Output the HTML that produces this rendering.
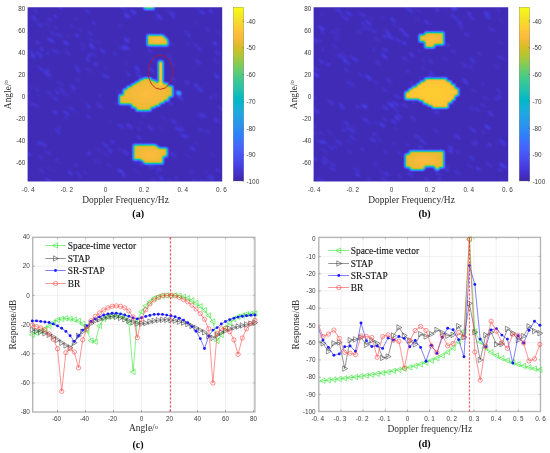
<!DOCTYPE html>
<html><head><meta charset="utf-8"><title>Figure</title>
<style>html,body{margin:0;padding:0;background:#fff}svg{display:block}.tk{font-family:"Liberation Sans",sans-serif;font-size:6.4px;fill:#3a3a3a}.lb{font-family:"Liberation Serif",serif;font-size:9.45px;fill:#2a2a2a}.lg{font-family:"Liberation Serif",serif;font-size:9.45px;fill:#111;stroke:#111;stroke-width:0.12px}.cp{font-family:"Liberation Serif",serif;font-size:10px;font-weight:bold;fill:#000}</style></head><body>
<svg width="550" height="453" viewBox="0 0 550 453">
<rect width="550" height="453" fill="#fff"/>
<defs>
<filter id="par" color-interpolation-filters="sRGB" filterUnits="userSpaceOnUse" x="0" y="0" width="550" height="230"><feGaussianBlur stdDeviation="0.85"/><feComponentTransfer><feFuncR type="table" tableValues="0.2422 0.2504 0.2578 0.2647 0.2706 0.2751 0.2783 0.2803 0.2813 0.2810 0.2795 0.2760 0.2699 0.2602 0.2440 0.2206 0.1963 0.1834 0.1786 0.1764 0.1687 0.1540 0.1460 0.1380 0.1248 0.1113 0.0952 0.0689 0.0297 0.0036 0.0067 0.0433 0.0964 0.1408 0.1717 0.1938 0.2161 0.2470 0.2906 0.3406 0.3909 0.4456 0.5044 0.5616 0.6174 0.6720 0.7242 0.7738 0.8203 0.8634 0.9035 0.9393 0.9728 0.9956 0.9970 0.9952 0.9892 0.9786 0.9676 0.9610 0.9597 0.9628 0.9691 0.9769"/><feFuncG type="table" tableValues="0.1504 0.1650 0.1818 0.1978 0.2147 0.2342 0.2559 0.2782 0.3006 0.3228 0.3447 0.3667 0.3892 0.4123 0.4358 0.4603 0.4847 0.5074 0.5289 0.5499 0.5703 0.5902 0.6091 0.6276 0.6459 0.6635 0.6798 0.6948 0.7082 0.7203 0.7312 0.7411 0.7500 0.7584 0.7670 0.7758 0.7843 0.7918 0.7973 0.8008 0.8029 0.8024 0.7993 0.7942 0.7876 0.7793 0.7698 0.7598 0.7498 0.7406 0.7330 0.7288 0.7298 0.7434 0.7659 0.7893 0.8136 0.8386 0.8639 0.8890 0.9135 0.9373 0.9606 0.9839"/><feFuncB type="table" tableValues="0.6603 0.7076 0.7511 0.7952 0.8364 0.8710 0.8991 0.9221 0.9414 0.9579 0.9717 0.9829 0.9906 0.9952 0.9988 0.9973 0.9892 0.9798 0.9682 0.9520 0.9359 0.9218 0.9079 0.8973 0.8883 0.8763 0.8598 0.8394 0.8163 0.7917 0.7660 0.7394 0.7120 0.6842 0.6554 0.6251 0.5923 0.5567 0.5188 0.4789 0.4354 0.3909 0.3480 0.3045 0.2612 0.2227 0.1910 0.1646 0.1535 0.1596 0.1774 0.2100 0.2394 0.2371 0.2199 0.2028 0.1885 0.1766 0.1643 0.1537 0.1423 0.1265 0.1064 0.0805"/></feComponentTransfer></filter>
<linearGradient id="cb" x1="0" y1="0" x2="0" y2="1"><stop offset="0.0000" stop-color="#f9fb15"/><stop offset="0.0312" stop-color="#f6ef20"/><stop offset="0.0625" stop-color="#f5e327"/><stop offset="0.0938" stop-color="#f9d62d"/><stop offset="0.1250" stop-color="#feca33"/><stop offset="0.1562" stop-color="#febe3c"/><stop offset="0.1875" stop-color="#f1ba37"/><stop offset="0.2188" stop-color="#debc2a"/><stop offset="0.2500" stop-color="#c8c129"/><stop offset="0.2812" stop-color="#afc637"/><stop offset="0.3125" stop-color="#94ca4a"/><stop offset="0.3438" stop-color="#77cc60"/><stop offset="0.3750" stop-color="#5ccc76"/><stop offset="0.4062" stop-color="#44ca8a"/><stop offset="0.4375" stop-color="#34c79c"/><stop offset="0.4688" stop-color="#28c2ab"/><stop offset="0.5000" stop-color="#12beb9"/><stop offset="0.5312" stop-color="#01b9c6"/><stop offset="0.5625" stop-color="#0cb3d3"/><stop offset="0.5938" stop-color="#1aacdd"/><stop offset="0.6250" stop-color="#21a3e3"/><stop offset="0.6562" stop-color="#269ae9"/><stop offset="0.6875" stop-color="#2c90f0"/><stop offset="0.7188" stop-color="#2e85f8"/><stop offset="0.7500" stop-color="#347afd"/><stop offset="0.7812" stop-color="#3f6efe"/><stop offset="0.8125" stop-color="#4562fc"/><stop offset="0.8438" stop-color="#4757f7"/><stop offset="0.8750" stop-color="#484cef"/><stop offset="0.9062" stop-color="#4741e5"/><stop offset="0.9375" stop-color="#4536d5"/><stop offset="0.9688" stop-color="#422ebf"/><stop offset="1.0000" stop-color="#3e26a8"/></linearGradient>
<radialGradient id="ga" cx="50%" cy="50%" r="60%"><stop offset="0" stop-color="#d7d7d7"/><stop offset="1" stop-color="#c9c9c9"/></radialGradient>
<radialGradient id="gb" cx="50%" cy="50%" r="60%"><stop offset="0" stop-color="#e3e3e3"/><stop offset="1" stop-color="#d9d9d9"/></radialGradient>
<clipPath id="ca"><rect x="27.6" y="7.3" width="194.6" height="174.3"/></clipPath>
<clipPath id="cbp"><rect x="313.6" y="7.3" width="194.6" height="174.3"/></clipPath>
<clipPath id="cc"><rect x="32.3" y="237" width="222.6" height="175"/></clipPath>
<clipPath id="cd"><rect x="318.8" y="237.4" width="221.7" height="174.1"/></clipPath>
</defs>
<g clip-path="url(#ca)"><g filter="url(#par)">
<rect x="21.6" y="1.3" width="206.6" height="186.0" fill="#050505"/>
<ellipse cx="90.6" cy="33.5" rx="3.7" ry="0.9" fill="#141414" transform="rotate(33 90.6 33.5)"/><ellipse cx="38.9" cy="95.6" rx="2.3" ry="1.1" fill="#0d0d0d" transform="rotate(27 38.9 95.6)"/><ellipse cx="110.2" cy="151.2" rx="2.5" ry="1.0" fill="#151515" transform="rotate(46 110.2 151.2)"/><ellipse cx="139.9" cy="76.3" rx="4.4" ry="0.8" fill="#191919" transform="rotate(31 139.9 76.3)"/><ellipse cx="55.7" cy="27.8" rx="2.9" ry="1.4" fill="#0e0e0e" transform="rotate(38 55.7 27.8)"/><ellipse cx="151.9" cy="72.1" rx="3.5" ry="0.8" fill="#0c0c0c" transform="rotate(30 151.9 72.1)"/><ellipse cx="160.0" cy="81.7" rx="2.9" ry="1.2" fill="#121212" transform="rotate(32 160.0 81.7)"/><ellipse cx="182.2" cy="128.9" rx="2.8" ry="1.2" fill="#141414" transform="rotate(44 182.2 128.9)"/><ellipse cx="169.6" cy="57.4" rx="4.5" ry="0.9" fill="#121212" transform="rotate(42 169.6 57.4)"/><ellipse cx="57.2" cy="92.4" rx="2.3" ry="1.3" fill="#171717" transform="rotate(38 57.2 92.4)"/><ellipse cx="198.0" cy="61.9" rx="3.8" ry="1.2" fill="#141414" transform="rotate(35 198.0 61.9)"/><ellipse cx="191.1" cy="171.7" rx="3.3" ry="1.3" fill="#0c0c0c" transform="rotate(40 191.1 171.7)"/><ellipse cx="153.5" cy="180.1" rx="4.1" ry="1.0" fill="#111111" transform="rotate(40 153.5 180.1)"/><ellipse cx="32.0" cy="87.6" rx="2.6" ry="0.9" fill="#0c0c0c" transform="rotate(42 32.0 87.6)"/><ellipse cx="52.8" cy="50.4" rx="3.1" ry="1.4" fill="#0d0d0d" transform="rotate(35 52.8 50.4)"/><ellipse cx="134.5" cy="161.0" rx="4.1" ry="1.4" fill="#101010" transform="rotate(34 134.5 161.0)"/><ellipse cx="97.4" cy="161.1" rx="4.4" ry="0.9" fill="#0e0e0e" transform="rotate(30 97.4 161.1)"/><ellipse cx="73.0" cy="91.7" rx="3.6" ry="1.0" fill="#0c0c0c" transform="rotate(34 73.0 91.7)"/><ellipse cx="99.5" cy="105.8" rx="4.4" ry="1.3" fill="#131313" transform="rotate(39 99.5 105.8)"/><ellipse cx="159.2" cy="16.7" rx="4.3" ry="1.3" fill="#191919" transform="rotate(43 159.2 16.7)"/><ellipse cx="104.0" cy="76.7" rx="2.4" ry="1.2" fill="#0c0c0c" transform="rotate(26 104.0 76.7)"/><ellipse cx="68.2" cy="35.5" rx="3.0" ry="0.8" fill="#0b0b0b" transform="rotate(28 68.2 35.5)"/><ellipse cx="47.3" cy="70.6" rx="2.3" ry="1.4" fill="#151515" transform="rotate(28 47.3 70.6)"/><ellipse cx="76.7" cy="67.7" rx="3.0" ry="0.9" fill="#181818" transform="rotate(47 76.7 67.7)"/><ellipse cx="118.3" cy="91.5" rx="2.4" ry="0.9" fill="#111111" transform="rotate(31 118.3 91.5)"/><ellipse cx="188.9" cy="35.4" rx="2.3" ry="1.5" fill="#141414" transform="rotate(28 188.9 35.4)"/><ellipse cx="133.3" cy="12.0" rx="3.4" ry="1.5" fill="#191919" transform="rotate(40 133.3 12.0)"/><ellipse cx="78.4" cy="71.1" rx="2.6" ry="1.3" fill="#141414" transform="rotate(42 78.4 71.1)"/><ellipse cx="91.8" cy="46.1" rx="4.1" ry="1.5" fill="#191919" transform="rotate(43 91.8 46.1)"/><ellipse cx="186.8" cy="136.0" rx="2.7" ry="1.2" fill="#111111" transform="rotate(26 186.8 136.0)"/><ellipse cx="33.0" cy="55.9" rx="2.8" ry="1.3" fill="#1a1a1a" transform="rotate(35 33.0 55.9)"/><ellipse cx="209.9" cy="179.2" rx="4.4" ry="1.1" fill="#0f0f0f" transform="rotate(30 209.9 179.2)"/><ellipse cx="65.9" cy="42.9" rx="3.6" ry="1.4" fill="#181818" transform="rotate(36 65.9 42.9)"/><ellipse cx="154.7" cy="146.4" rx="2.4" ry="1.3" fill="#191919" transform="rotate(42 154.7 146.4)"/><ellipse cx="173.6" cy="90.5" rx="2.6" ry="1.4" fill="#111111" transform="rotate(43 173.6 90.5)"/><ellipse cx="216.7" cy="76.2" rx="3.1" ry="1.5" fill="#171717" transform="rotate(29 216.7 76.2)"/><ellipse cx="52.3" cy="33.6" rx="4.3" ry="1.4" fill="#0e0e0e" transform="rotate(43 52.3 33.6)"/><ellipse cx="218.4" cy="121.7" rx="3.0" ry="1.2" fill="#0d0d0d" transform="rotate(25 218.4 121.7)"/><ellipse cx="216.5" cy="120.3" rx="3.4" ry="1.5" fill="#121212" transform="rotate(44 216.5 120.3)"/><ellipse cx="188.4" cy="44.0" rx="2.8" ry="1.0" fill="#0f0f0f" transform="rotate(38 188.4 44.0)"/><ellipse cx="78.1" cy="80.2" rx="2.5" ry="1.4" fill="#111111" transform="rotate(35 78.1 80.2)"/><ellipse cx="141.1" cy="164.6" rx="3.2" ry="1.4" fill="#131313" transform="rotate(37 141.1 164.6)"/><ellipse cx="129.5" cy="10.6" rx="3.2" ry="0.9" fill="#0c0c0c" transform="rotate(43 129.5 10.6)"/><ellipse cx="61.1" cy="89.7" rx="3.9" ry="1.2" fill="#101010" transform="rotate(36 61.1 89.7)"/><ellipse cx="135.7" cy="143.8" rx="2.4" ry="1.2" fill="#0f0f0f" transform="rotate(31 135.7 143.8)"/><ellipse cx="177.9" cy="95.6" rx="3.5" ry="1.3" fill="#191919" transform="rotate(35 177.9 95.6)"/><ellipse cx="146.8" cy="95.3" rx="3.4" ry="1.3" fill="#121212" transform="rotate(37 146.8 95.3)"/><ellipse cx="120.6" cy="171.1" rx="3.8" ry="1.4" fill="#1a1a1a" transform="rotate(31 120.6 171.1)"/><ellipse cx="136.5" cy="171.4" rx="4.1" ry="0.9" fill="#0d0d0d" transform="rotate(35 136.5 171.4)"/><ellipse cx="41.7" cy="49.2" rx="2.4" ry="1.3" fill="#171717" transform="rotate(45 41.7 49.2)"/><ellipse cx="57.7" cy="131.9" rx="3.7" ry="0.9" fill="#191919" transform="rotate(46 57.7 131.9)"/><ellipse cx="70.3" cy="173.0" rx="3.1" ry="1.1" fill="#1b1b1b" transform="rotate(43 70.3 173.0)"/><ellipse cx="59.0" cy="82.4" rx="3.4" ry="1.0" fill="#0e0e0e" transform="rotate(32 59.0 82.4)"/><ellipse cx="168.1" cy="10.7" rx="3.5" ry="1.1" fill="#0c0c0c" transform="rotate(32 168.1 10.7)"/><ellipse cx="149.0" cy="96.4" rx="2.3" ry="1.5" fill="#181818" transform="rotate(46 149.0 96.4)"/><ellipse cx="48.0" cy="53.5" rx="2.3" ry="1.3" fill="#101010" transform="rotate(28 48.0 53.5)"/><ellipse cx="109.8" cy="165.9" rx="4.1" ry="1.0" fill="#0e0e0e" transform="rotate(45 109.8 165.9)"/><ellipse cx="138.6" cy="129.2" rx="2.4" ry="0.8" fill="#161616" transform="rotate(34 138.6 129.2)"/><ellipse cx="41.7" cy="170.6" rx="3.7" ry="1.4" fill="#0d0d0d" transform="rotate(44 41.7 170.6)"/><ellipse cx="40.6" cy="157.4" rx="3.2" ry="1.0" fill="#141414" transform="rotate(45 40.6 157.4)"/><ellipse cx="79.7" cy="29.8" rx="3.4" ry="1.0" fill="#0d0d0d" transform="rotate(29 79.7 29.8)"/><ellipse cx="37.4" cy="42.4" rx="2.9" ry="1.0" fill="#171717" transform="rotate(31 37.4 42.4)"/><ellipse cx="124.9" cy="38.3" rx="3.0" ry="0.8" fill="#0f0f0f" transform="rotate(25 124.9 38.3)"/><ellipse cx="170.3" cy="103.2" rx="2.6" ry="1.1" fill="#1a1a1a" transform="rotate(27 170.3 103.2)"/><ellipse cx="187.0" cy="82.5" rx="3.3" ry="1.4" fill="#111111" transform="rotate(36 187.0 82.5)"/><ellipse cx="161.4" cy="178.2" rx="3.0" ry="1.4" fill="#161616" transform="rotate(39 161.4 178.2)"/><ellipse cx="106.4" cy="67.8" rx="2.3" ry="0.9" fill="#0d0d0d" transform="rotate(41 106.4 67.8)"/><ellipse cx="77.3" cy="35.7" rx="2.4" ry="1.4" fill="#191919" transform="rotate(40 77.3 35.7)"/><ellipse cx="82.5" cy="49.4" rx="2.9" ry="1.1" fill="#0e0e0e" transform="rotate(35 82.5 49.4)"/><ellipse cx="78.8" cy="174.7" rx="4.4" ry="1.2" fill="#0f0f0f" transform="rotate(46 78.8 174.7)"/><ellipse cx="87.8" cy="69.3" rx="2.2" ry="1.1" fill="#131313" transform="rotate(36 87.8 69.3)"/><ellipse cx="66.7" cy="95.1" rx="2.2" ry="1.0" fill="#0d0d0d" transform="rotate(34 66.7 95.1)"/><ellipse cx="35.7" cy="11.2" rx="2.9" ry="1.0" fill="#141414" transform="rotate(37 35.7 11.2)"/><ellipse cx="173.7" cy="121.7" rx="3.8" ry="1.4" fill="#111111" transform="rotate(32 173.7 121.7)"/><ellipse cx="219.2" cy="33.3" rx="3.9" ry="1.3" fill="#0c0c0c" transform="rotate(43 219.2 33.3)"/><ellipse cx="201.2" cy="116.5" rx="3.9" ry="1.4" fill="#0e0e0e" transform="rotate(37 201.2 116.5)"/><ellipse cx="125.8" cy="152.6" rx="4.1" ry="1.4" fill="#141414" transform="rotate(45 125.8 152.6)"/><ellipse cx="160.5" cy="127.9" rx="2.7" ry="0.8" fill="#0e0e0e" transform="rotate(33 160.5 127.9)"/><ellipse cx="48.0" cy="152.7" rx="3.5" ry="1.2" fill="#151515" transform="rotate(40 48.0 152.7)"/><ellipse cx="122.8" cy="7.9" rx="4.0" ry="1.3" fill="#131313" transform="rotate(37 122.8 7.9)"/><ellipse cx="155.9" cy="18.8" rx="3.9" ry="1.0" fill="#0d0d0d" transform="rotate(31 155.9 18.8)"/><ellipse cx="169.5" cy="43.0" rx="3.9" ry="1.5" fill="#131313" transform="rotate(33 169.5 43.0)"/><ellipse cx="120.8" cy="126.3" rx="4.0" ry="1.2" fill="#151515" transform="rotate(27 120.8 126.3)"/><ellipse cx="56.3" cy="51.5" rx="3.9" ry="1.0" fill="#141414" transform="rotate(25 56.3 51.5)"/><ellipse cx="39.4" cy="54.1" rx="3.7" ry="1.3" fill="#161616" transform="rotate(31 39.4 54.1)"/><ellipse cx="128.1" cy="88.2" rx="3.3" ry="0.9" fill="#191919" transform="rotate(29 128.1 88.2)"/><ellipse cx="217.9" cy="170.2" rx="2.2" ry="1.1" fill="#181818" transform="rotate(46 217.9 170.2)"/><ellipse cx="115.1" cy="54.0" rx="2.7" ry="1.5" fill="#0f0f0f" transform="rotate(38 115.1 54.0)"/><ellipse cx="55.2" cy="98.5" rx="4.4" ry="0.9" fill="#181818" transform="rotate(36 55.2 98.5)"/><ellipse cx="200.2" cy="129.7" rx="2.7" ry="1.4" fill="#131313" transform="rotate(26 200.2 129.7)"/><ellipse cx="28.3" cy="92.9" rx="3.2" ry="1.0" fill="#0e0e0e" transform="rotate(33 28.3 92.9)"/><ellipse cx="89.1" cy="153.5" rx="2.2" ry="1.3" fill="#181818" transform="rotate(28 89.1 153.5)"/><ellipse cx="207.9" cy="131.4" rx="4.3" ry="1.0" fill="#111111" transform="rotate(34 207.9 131.4)"/><ellipse cx="222.0" cy="109.8" rx="3.0" ry="1.1" fill="#101010" transform="rotate(26 222.0 109.8)"/><ellipse cx="47.4" cy="152.5" rx="2.9" ry="1.5" fill="#0f0f0f" transform="rotate(31 47.4 152.5)"/><ellipse cx="127.0" cy="40.3" rx="3.1" ry="1.5" fill="#191919" transform="rotate(43 127.0 40.3)"/><ellipse cx="150.4" cy="166.2" rx="4.4" ry="1.2" fill="#161616" transform="rotate(26 150.4 166.2)"/><ellipse cx="170.1" cy="85.7" rx="3.9" ry="1.3" fill="#101010" transform="rotate(26 170.1 85.7)"/><ellipse cx="208.0" cy="29.5" rx="3.3" ry="1.0" fill="#101010" transform="rotate(41 208.0 29.5)"/><ellipse cx="217.6" cy="52.6" rx="3.7" ry="1.0" fill="#141414" transform="rotate(34 217.6 52.6)"/><ellipse cx="60.2" cy="35.4" rx="2.7" ry="1.4" fill="#131313" transform="rotate(30 60.2 35.4)"/><ellipse cx="204.0" cy="180.7" rx="3.2" ry="0.9" fill="#0e0e0e" transform="rotate(27 204.0 180.7)"/><ellipse cx="94.1" cy="23.2" rx="2.7" ry="1.0" fill="#141414" transform="rotate(45 94.1 23.2)"/><ellipse cx="173.5" cy="79.1" rx="3.2" ry="1.2" fill="#111111" transform="rotate(32 173.5 79.1)"/><ellipse cx="39.7" cy="55.6" rx="4.4" ry="0.9" fill="#131313" transform="rotate(39 39.7 55.6)"/><ellipse cx="195.5" cy="44.9" rx="2.8" ry="1.0" fill="#121212" transform="rotate(35 195.5 44.9)"/><ellipse cx="213.2" cy="155.0" rx="4.2" ry="0.8" fill="#0c0c0c" transform="rotate(41 213.2 155.0)"/><ellipse cx="201.9" cy="89.6" rx="3.6" ry="0.8" fill="#111111" transform="rotate(45 201.9 89.6)"/><ellipse cx="188.3" cy="156.2" rx="4.4" ry="1.0" fill="#0d0d0d" transform="rotate(28 188.3 156.2)"/><ellipse cx="129.3" cy="126.0" rx="4.4" ry="1.3" fill="#151515" transform="rotate(42 129.3 126.0)"/><ellipse cx="116.6" cy="103.3" rx="2.3" ry="1.3" fill="#0f0f0f" transform="rotate(45 116.6 103.3)"/><ellipse cx="153.2" cy="60.2" rx="2.5" ry="1.0" fill="#151515" transform="rotate(40 153.2 60.2)"/><ellipse cx="49.4" cy="19.5" rx="3.4" ry="1.2" fill="#111111" transform="rotate(30 49.4 19.5)"/><ellipse cx="144.6" cy="9.1" rx="2.9" ry="1.1" fill="#1a1a1a" transform="rotate(39 144.6 9.1)"/><ellipse cx="199.6" cy="90.0" rx="2.7" ry="1.0" fill="#1a1a1a" transform="rotate(41 199.6 90.0)"/><ellipse cx="87.4" cy="11.1" rx="3.3" ry="1.3" fill="#121212" transform="rotate(31 87.4 11.1)"/><ellipse cx="157.5" cy="168.3" rx="2.7" ry="0.8" fill="#111111" transform="rotate(34 157.5 168.3)"/><ellipse cx="160.4" cy="41.8" rx="4.0" ry="1.3" fill="#131313" transform="rotate(30 160.4 41.8)"/><ellipse cx="216.3" cy="61.5" rx="4.1" ry="1.0" fill="#0f0f0f" transform="rotate(42 216.3 61.5)"/><ellipse cx="85.0" cy="172.9" rx="3.3" ry="0.9" fill="#0f0f0f" transform="rotate(34 85.0 172.9)"/><ellipse cx="157.1" cy="172.4" rx="2.5" ry="1.1" fill="#0f0f0f" transform="rotate(46 157.1 172.4)"/><ellipse cx="55.2" cy="16.3" rx="2.3" ry="1.1" fill="#191919" transform="rotate(44 55.2 16.3)"/><ellipse cx="170.2" cy="180.9" rx="4.3" ry="1.0" fill="#0e0e0e" transform="rotate(46 170.2 180.9)"/><ellipse cx="172.8" cy="12.8" rx="3.7" ry="1.1" fill="#111111" transform="rotate(32 172.8 12.8)"/><ellipse cx="60.5" cy="7.8" rx="2.8" ry="1.0" fill="#1a1a1a" transform="rotate(28 60.5 7.8)"/><ellipse cx="215.2" cy="43.4" rx="3.0" ry="1.4" fill="#181818" transform="rotate(35 215.2 43.4)"/><ellipse cx="37.2" cy="89.7" rx="3.1" ry="1.4" fill="#0e0e0e" transform="rotate(33 37.2 89.7)"/><ellipse cx="202.2" cy="12.6" rx="3.1" ry="1.4" fill="#171717" transform="rotate(26 202.2 12.6)"/><ellipse cx="34.4" cy="18.2" rx="4.3" ry="1.0" fill="#171717" transform="rotate(45 34.4 18.2)"/><ellipse cx="93.6" cy="54.7" rx="4.4" ry="1.2" fill="#0f0f0f" transform="rotate(41 93.6 54.7)"/><ellipse cx="89.2" cy="55.3" rx="2.2" ry="1.3" fill="#191919" transform="rotate(39 89.2 55.3)"/><ellipse cx="211.2" cy="11.5" rx="2.7" ry="1.1" fill="#1a1a1a" transform="rotate(46 211.2 11.5)"/><ellipse cx="102.8" cy="51.0" rx="3.2" ry="1.1" fill="#1a1a1a" transform="rotate(29 102.8 51.0)"/><ellipse cx="183.8" cy="135.8" rx="4.1" ry="1.3" fill="#151515" transform="rotate(32 183.8 135.8)"/><ellipse cx="89.8" cy="70.3" rx="4.0" ry="0.9" fill="#0e0e0e" transform="rotate(42 89.8 70.3)"/><ellipse cx="75.7" cy="18.6" rx="2.3" ry="1.2" fill="#101010" transform="rotate(47 75.7 18.6)"/><ellipse cx="199.5" cy="179.2" rx="2.8" ry="0.9" fill="#0d0d0d" transform="rotate(36 199.5 179.2)"/><ellipse cx="165.7" cy="85.1" rx="2.7" ry="1.1" fill="#151515" transform="rotate(40 165.7 85.1)"/><ellipse cx="173.2" cy="154.7" rx="3.7" ry="0.9" fill="#181818" transform="rotate(31 173.2 154.7)"/><ellipse cx="137.9" cy="72.2" rx="3.9" ry="0.9" fill="#0f0f0f" transform="rotate(30 137.9 72.2)"/><ellipse cx="57.4" cy="161.1" rx="3.5" ry="1.0" fill="#121212" transform="rotate(47 57.4 161.1)"/><ellipse cx="126.3" cy="47.6" rx="4.1" ry="1.3" fill="#1b1b1b" transform="rotate(27 126.3 47.6)"/><ellipse cx="120.0" cy="149.8" rx="4.1" ry="1.4" fill="#0c0c0c" transform="rotate(31 120.0 149.8)"/><ellipse cx="50.8" cy="40.3" rx="4.4" ry="1.2" fill="#1a1a1a" transform="rotate(33 50.8 40.3)"/><ellipse cx="196.1" cy="85.4" rx="2.8" ry="1.3" fill="#1a1a1a" transform="rotate(27 196.1 85.4)"/><ellipse cx="143.6" cy="115.2" rx="2.7" ry="1.1" fill="#0e0e0e" transform="rotate(29 143.6 115.2)"/><ellipse cx="77.2" cy="111.6" rx="3.7" ry="0.9" fill="#0c0c0c" transform="rotate(32 77.2 111.6)"/><ellipse cx="159.6" cy="39.5" rx="2.9" ry="0.9" fill="#181818" transform="rotate(37 159.6 39.5)"/><ellipse cx="39.9" cy="24.9" rx="3.1" ry="1.2" fill="#151515" transform="rotate(27 39.9 24.9)"/><ellipse cx="59.5" cy="128.3" rx="3.1" ry="1.0" fill="#101010" transform="rotate(46 59.5 128.3)"/><ellipse cx="88.4" cy="105.9" rx="3.0" ry="1.1" fill="#191919" transform="rotate(47 88.4 105.9)"/><ellipse cx="98.4" cy="41.6" rx="3.9" ry="0.9" fill="#0c0c0c" transform="rotate(45 98.4 41.6)"/><ellipse cx="110.1" cy="150.0" rx="3.1" ry="1.4" fill="#131313" transform="rotate(29 110.1 150.0)"/><ellipse cx="30.5" cy="103.3" rx="3.7" ry="1.4" fill="#0d0d0d" transform="rotate(39 30.5 103.3)"/><ellipse cx="99.8" cy="95.1" rx="2.5" ry="1.0" fill="#131313" transform="rotate(45 99.8 95.1)"/><ellipse cx="48.8" cy="92.6" rx="4.1" ry="1.5" fill="#0e0e0e" transform="rotate(28 48.8 92.6)"/><ellipse cx="211.1" cy="177.0" rx="3.3" ry="0.8" fill="#1a1a1a" transform="rotate(34 211.1 177.0)"/><ellipse cx="203.6" cy="115.2" rx="4.1" ry="0.9" fill="#171717" transform="rotate(30 203.6 115.2)"/><ellipse cx="106.3" cy="154.6" rx="4.1" ry="0.9" fill="#0f0f0f" transform="rotate(34 106.3 154.6)"/><ellipse cx="128.4" cy="74.0" rx="2.5" ry="1.0" fill="#171717" transform="rotate(45 128.4 74.0)"/><ellipse cx="35.6" cy="105.1" rx="3.9" ry="0.8" fill="#181818" transform="rotate(28 35.6 105.1)"/><ellipse cx="144.3" cy="103.0" rx="3.6" ry="1.0" fill="#121212" transform="rotate(38 144.3 103.0)"/><ellipse cx="110.4" cy="121.9" rx="3.2" ry="1.1" fill="#0c0c0c" transform="rotate(39 110.4 121.9)"/><ellipse cx="122.9" cy="48.2" rx="4.0" ry="1.3" fill="#121212" transform="rotate(29 122.9 48.2)"/><ellipse cx="119.7" cy="25.9" rx="2.5" ry="1.1" fill="#0d0d0d" transform="rotate(35 119.7 25.9)"/><ellipse cx="126.9" cy="14.4" rx="3.7" ry="0.9" fill="#171717" transform="rotate(42 126.9 14.4)"/><ellipse cx="127.1" cy="16.7" rx="3.4" ry="1.1" fill="#1a1a1a" transform="rotate(28 127.1 16.7)"/><ellipse cx="194.4" cy="180.6" rx="3.9" ry="1.4" fill="#0e0e0e" transform="rotate(47 194.4 180.6)"/><ellipse cx="123.3" cy="173.8" rx="4.3" ry="0.9" fill="#181818" transform="rotate(45 123.3 173.8)"/><ellipse cx="40.3" cy="68.4" rx="3.9" ry="0.9" fill="#191919" transform="rotate(31 40.3 68.4)"/><ellipse cx="186.3" cy="32.3" rx="3.4" ry="1.4" fill="#0f0f0f" transform="rotate(31 186.3 32.3)"/><ellipse cx="126.1" cy="62.8" rx="2.3" ry="0.9" fill="#0e0e0e" transform="rotate(46 126.1 62.8)"/><ellipse cx="159.9" cy="163.1" rx="2.6" ry="1.3" fill="#0d0d0d" transform="rotate(37 159.9 163.1)"/><ellipse cx="151.4" cy="69.9" rx="4.2" ry="1.2" fill="#141414" transform="rotate(44 151.4 69.9)"/><ellipse cx="48.0" cy="180.1" rx="3.6" ry="1.1" fill="#181818" transform="rotate(31 48.0 180.1)"/><ellipse cx="220.4" cy="107.8" rx="3.0" ry="1.3" fill="#121212" transform="rotate(29 220.4 107.8)"/><ellipse cx="172.3" cy="15.7" rx="4.1" ry="1.0" fill="#151515" transform="rotate(47 172.3 15.7)"/><ellipse cx="141.6" cy="122.8" rx="2.9" ry="0.8" fill="#0c0c0c" transform="rotate(28 141.6 122.8)"/><ellipse cx="147.5" cy="82.5" rx="3.4" ry="1.4" fill="#0d0d0d" transform="rotate(30 147.5 82.5)"/><ellipse cx="154.7" cy="11.2" rx="2.2" ry="1.0" fill="#0d0d0d" transform="rotate(33 154.7 11.2)"/><ellipse cx="71.2" cy="108.8" rx="3.6" ry="0.9" fill="#151515" transform="rotate(35 71.2 108.8)"/><ellipse cx="53.8" cy="170.3" rx="2.8" ry="0.9" fill="#0d0d0d" transform="rotate(39 53.8 170.3)"/><ellipse cx="197.2" cy="143.4" rx="3.1" ry="1.0" fill="#0c0c0c" transform="rotate(39 197.2 143.4)"/><ellipse cx="137.0" cy="68.3" rx="3.7" ry="1.1" fill="#1a1a1a" transform="rotate(41 137.0 68.3)"/><ellipse cx="76.0" cy="164.5" rx="2.3" ry="1.2" fill="#121212" transform="rotate(30 76.0 164.5)"/><ellipse cx="39.0" cy="142.8" rx="2.2" ry="1.2" fill="#1a1a1a" transform="rotate(28 39.0 142.8)"/><ellipse cx="66.4" cy="113.1" rx="3.4" ry="1.2" fill="#181818" transform="rotate(29 66.4 113.1)"/><ellipse cx="87.8" cy="59.5" rx="2.3" ry="1.4" fill="#171717" transform="rotate(41 87.8 59.5)"/><ellipse cx="28.8" cy="154.2" rx="3.9" ry="1.1" fill="#171717" transform="rotate(35 28.8 154.2)"/><ellipse cx="71.6" cy="25.6" rx="2.7" ry="0.8" fill="#111111" transform="rotate(41 71.6 25.6)"/><ellipse cx="162.9" cy="154.4" rx="3.8" ry="1.0" fill="#141414" transform="rotate(35 162.9 154.4)"/><ellipse cx="181.0" cy="98.3" rx="2.8" ry="1.2" fill="#1a1a1a" transform="rotate(30 181.0 98.3)"/><ellipse cx="198.9" cy="9.9" rx="2.8" ry="1.0" fill="#171717" transform="rotate(46 198.9 9.9)"/><ellipse cx="172.8" cy="64.2" rx="4.2" ry="1.0" fill="#0f0f0f" transform="rotate(45 172.8 64.2)"/><ellipse cx="150.3" cy="127.9" rx="3.7" ry="1.5" fill="#131313" transform="rotate(43 150.3 127.9)"/><ellipse cx="163.4" cy="156.5" rx="3.2" ry="1.3" fill="#141414" transform="rotate(32 163.4 156.5)"/><ellipse cx="68.8" cy="115.6" rx="2.4" ry="1.4" fill="#0e0e0e" transform="rotate(26 68.8 115.6)"/><ellipse cx="48.4" cy="168.9" rx="3.0" ry="0.9" fill="#0c0c0c" transform="rotate(26 48.4 168.9)"/><ellipse cx="162.4" cy="117.6" rx="3.8" ry="1.3" fill="#0c0c0c" transform="rotate(38 162.4 117.6)"/><ellipse cx="98.3" cy="149.6" rx="4.1" ry="1.4" fill="#0c0c0c" transform="rotate(44 98.3 149.6)"/><ellipse cx="205.5" cy="171.6" rx="2.4" ry="0.9" fill="#0d0d0d" transform="rotate(26 205.5 171.6)"/><ellipse cx="192.6" cy="148.6" rx="3.7" ry="1.4" fill="#151515" transform="rotate(31 192.6 148.6)"/><ellipse cx="47.0" cy="24.3" rx="3.9" ry="0.9" fill="#101010" transform="rotate(34 47.0 24.3)"/><ellipse cx="31.7" cy="52.0" rx="2.8" ry="1.3" fill="#111111" transform="rotate(32 31.7 52.0)"/><ellipse cx="215.2" cy="95.0" rx="4.2" ry="1.2" fill="#0c0c0c" transform="rotate(34 215.2 95.0)"/><ellipse cx="112.5" cy="141.8" rx="3.0" ry="1.3" fill="#141414" transform="rotate(30 112.5 141.8)"/><ellipse cx="195.4" cy="23.1" rx="4.1" ry="0.9" fill="#0b0b0b" transform="rotate(29 195.4 23.1)"/><ellipse cx="175.9" cy="177.4" rx="2.2" ry="1.1" fill="#131313" transform="rotate(43 175.9 177.4)"/><ellipse cx="63.5" cy="93.4" rx="3.0" ry="1.4" fill="#0f0f0f" transform="rotate(46 63.5 93.4)"/><ellipse cx="82.8" cy="44.7" rx="3.8" ry="1.1" fill="#0d0d0d" transform="rotate(39 82.8 44.7)"/><ellipse cx="43.3" cy="144.4" rx="3.8" ry="1.4" fill="#151515" transform="rotate(33 43.3 144.4)"/><ellipse cx="105.7" cy="76.0" rx="4.2" ry="0.9" fill="#191919" transform="rotate(26 105.7 76.0)"/><ellipse cx="67.7" cy="53.1" rx="4.3" ry="1.2" fill="#111111" transform="rotate(44 67.7 53.1)"/><ellipse cx="73.1" cy="87.5" rx="3.4" ry="1.3" fill="#171717" transform="rotate(39 73.1 87.5)"/><ellipse cx="95.4" cy="64.1" rx="2.6" ry="1.4" fill="#161616" transform="rotate(41 95.4 64.1)"/><ellipse cx="60.6" cy="83.7" rx="4.0" ry="1.2" fill="#0d0d0d" transform="rotate(35 60.6 83.7)"/><ellipse cx="199.8" cy="48.7" rx="2.6" ry="1.0" fill="#161616" transform="rotate(44 199.8 48.7)"/><ellipse cx="57.7" cy="34.4" rx="2.8" ry="1.0" fill="#131313" transform="rotate(29 57.7 34.4)"/><ellipse cx="91.4" cy="40.2" rx="4.4" ry="1.3" fill="#0d0d0d" transform="rotate(46 91.4 40.2)"/><ellipse cx="47.4" cy="74.2" rx="4.5" ry="1.4" fill="#171717" transform="rotate(35 47.4 74.2)"/><ellipse cx="65.8" cy="118.3" rx="2.4" ry="0.9" fill="#111111" transform="rotate(26 65.8 118.3)"/><ellipse cx="105.2" cy="144.9" rx="3.8" ry="1.2" fill="#151515" transform="rotate(35 105.2 144.9)"/><ellipse cx="55.2" cy="112.3" rx="3.1" ry="1.3" fill="#191919" transform="rotate(34 55.2 112.3)"/><ellipse cx="139.3" cy="137.6" rx="3.2" ry="1.0" fill="#171717" transform="rotate(44 139.3 137.6)"/><ellipse cx="178.2" cy="129.1" rx="4.2" ry="1.3" fill="#151515" transform="rotate(35 178.2 129.1)"/><ellipse cx="88.5" cy="116.6" rx="2.4" ry="1.1" fill="#171717" transform="rotate(41 88.5 116.6)"/><ellipse cx="150.1" cy="50.8" rx="3.2" ry="1.1" fill="#151515" transform="rotate(34 150.1 50.8)"/><ellipse cx="159.0" cy="169.2" rx="2.6" ry="1.3" fill="#171717" transform="rotate(34 159.0 169.2)"/><ellipse cx="122.9" cy="176.9" rx="2.3" ry="1.2" fill="#0e0e0e" transform="rotate(42 122.9 176.9)"/><ellipse cx="210.6" cy="97.6" rx="2.4" ry="1.2" fill="#141414" transform="rotate(41 210.6 97.6)"/>
<polygon points="143.6,3.0 154.6,3.0 154.6,10.0 143.6,10.0" fill="#b2b2b2" stroke="#050505" stroke-width="1.3"/>
<polygon points="146.6,34.4 163.0,34.4 168.6,39.8 168.6,46.2 146.6,46.2" fill="url(#ga)" stroke="#050505" stroke-width="1.3"/>
<polygon points="118.6,94.2 122.8,94.2 122.8,88.5 126.6,88.5 126.6,85.9 131.1,85.9 131.1,83.4 134.9,83.4 134.9,81.2 138.7,81.2 138.7,78.9 142.5,78.9 142.5,77.4 152.0,77.4 152.0,79.5 156.5,79.5 156.5,81.5 164.0,81.5 164.0,82.7 168.5,82.7 168.5,85.3 173.3,85.3 173.3,97.4 169.3,97.4 169.3,101.2 164.8,101.2 164.8,103.7 160.4,103.7 160.4,106.3 155.9,106.3 155.9,108.2 151.5,108.2 151.5,111.4 135.5,111.4 135.5,108.2 131.1,108.2 131.1,105.0 118.6,105.0" fill="url(#ga)" stroke="#050505" stroke-width="1.3"/>
<rect x="158.6" y="61.2" width="4.2" height="24" fill="#ebebeb"/>
<ellipse cx="178.8" cy="92.9" rx="2.6" ry="1.2" fill="#999999" transform="rotate(30 178.8 92.9)"/>
<polygon points="132.8,144.0 155.5,144.0 159.6,147.3 167.9,147.3 167.9,157.2 163.8,157.2 163.8,164.3 144.7,164.3 140.6,160.5 132.8,160.5" fill="url(#ga)" stroke="#050505" stroke-width="1.3"/>
</g></g>
<ellipse cx="160.4" cy="72.2" rx="12.3" ry="17.1" fill="none" stroke="#b3152a" stroke-width="0.8"/>
<g clip-path="url(#cbp)"><g filter="url(#par)">
<rect x="307.6" y="1.3" width="206.6" height="186.0" fill="#050505"/>
<ellipse cx="413.3" cy="118.5" rx="4.1" ry="1.2" fill="#121212" transform="rotate(46 413.3 118.5)"/><ellipse cx="354.5" cy="126.4" rx="3.1" ry="1.3" fill="#0d0d0d" transform="rotate(47 354.5 126.4)"/><ellipse cx="382.8" cy="17.2" rx="2.8" ry="1.1" fill="#0c0c0c" transform="rotate(34 382.8 17.2)"/><ellipse cx="395.4" cy="128.8" rx="3.0" ry="1.0" fill="#0f0f0f" transform="rotate(41 395.4 128.8)"/><ellipse cx="496.5" cy="99.0" rx="2.7" ry="1.4" fill="#111111" transform="rotate(30 496.5 99.0)"/><ellipse cx="338.8" cy="142.4" rx="4.1" ry="1.2" fill="#131313" transform="rotate(37 338.8 142.4)"/><ellipse cx="357.6" cy="175.0" rx="3.0" ry="1.2" fill="#181818" transform="rotate(43 357.6 175.0)"/><ellipse cx="404.7" cy="58.5" rx="3.5" ry="0.9" fill="#181818" transform="rotate(33 404.7 58.5)"/><ellipse cx="479.1" cy="53.8" rx="3.1" ry="1.0" fill="#121212" transform="rotate(29 479.1 53.8)"/><ellipse cx="314.1" cy="132.9" rx="2.8" ry="1.0" fill="#101010" transform="rotate(36 314.1 132.9)"/><ellipse cx="397.0" cy="118.2" rx="3.7" ry="1.1" fill="#1a1a1a" transform="rotate(44 397.0 118.2)"/><ellipse cx="324.7" cy="151.4" rx="4.3" ry="1.3" fill="#0e0e0e" transform="rotate(43 324.7 151.4)"/><ellipse cx="436.8" cy="9.9" rx="2.2" ry="1.5" fill="#161616" transform="rotate(31 436.8 9.9)"/><ellipse cx="333.4" cy="32.1" rx="2.7" ry="1.3" fill="#111111" transform="rotate(28 333.4 32.1)"/><ellipse cx="489.5" cy="145.1" rx="2.6" ry="1.4" fill="#151515" transform="rotate(42 489.5 145.1)"/><ellipse cx="443.7" cy="162.8" rx="4.0" ry="1.4" fill="#0e0e0e" transform="rotate(40 443.7 162.8)"/><ellipse cx="416.9" cy="136.4" rx="3.2" ry="1.4" fill="#141414" transform="rotate(31 416.9 136.4)"/><ellipse cx="359.2" cy="31.5" rx="3.3" ry="0.8" fill="#131313" transform="rotate(28 359.2 31.5)"/><ellipse cx="409.2" cy="94.0" rx="3.4" ry="1.4" fill="#0c0c0c" transform="rotate(43 409.2 94.0)"/><ellipse cx="404.7" cy="105.2" rx="3.7" ry="1.4" fill="#111111" transform="rotate(34 404.7 105.2)"/><ellipse cx="500.5" cy="20.4" rx="3.7" ry="1.2" fill="#0c0c0c" transform="rotate(38 500.5 20.4)"/><ellipse cx="446.4" cy="169.4" rx="3.0" ry="1.5" fill="#131313" transform="rotate(36 446.4 169.4)"/><ellipse cx="488.3" cy="13.2" rx="3.9" ry="1.2" fill="#111111" transform="rotate(44 488.3 13.2)"/><ellipse cx="384.9" cy="89.9" rx="3.4" ry="1.3" fill="#0f0f0f" transform="rotate(35 384.9 89.9)"/><ellipse cx="395.8" cy="103.7" rx="4.1" ry="1.0" fill="#181818" transform="rotate(34 395.8 103.7)"/><ellipse cx="411.6" cy="54.6" rx="3.4" ry="1.5" fill="#151515" transform="rotate(42 411.6 54.6)"/><ellipse cx="378.0" cy="62.5" rx="2.9" ry="1.2" fill="#151515" transform="rotate(42 378.0 62.5)"/><ellipse cx="321.4" cy="133.0" rx="4.2" ry="1.2" fill="#0c0c0c" transform="rotate(32 321.4 133.0)"/><ellipse cx="314.8" cy="40.3" rx="4.3" ry="1.2" fill="#161616" transform="rotate(42 314.8 40.3)"/><ellipse cx="490.7" cy="113.7" rx="3.6" ry="1.2" fill="#161616" transform="rotate(38 490.7 113.7)"/><ellipse cx="446.1" cy="44.3" rx="3.7" ry="1.1" fill="#171717" transform="rotate(27 446.1 44.3)"/><ellipse cx="348.9" cy="13.7" rx="4.0" ry="1.4" fill="#161616" transform="rotate(33 348.9 13.7)"/><ellipse cx="473.7" cy="144.2" rx="3.5" ry="1.0" fill="#101010" transform="rotate(34 473.7 144.2)"/><ellipse cx="375.6" cy="82.2" rx="3.7" ry="1.5" fill="#0c0c0c" transform="rotate(37 375.6 82.2)"/><ellipse cx="321.3" cy="28.0" rx="4.1" ry="1.2" fill="#1a1a1a" transform="rotate(35 321.3 28.0)"/><ellipse cx="316.3" cy="74.7" rx="3.6" ry="1.5" fill="#1a1a1a" transform="rotate(35 316.3 74.7)"/><ellipse cx="393.9" cy="25.1" rx="3.7" ry="0.9" fill="#0e0e0e" transform="rotate(25 393.9 25.1)"/><ellipse cx="314.5" cy="126.3" rx="2.5" ry="1.5" fill="#0d0d0d" transform="rotate(44 314.5 126.3)"/><ellipse cx="338.7" cy="10.4" rx="3.9" ry="1.0" fill="#171717" transform="rotate(29 338.7 10.4)"/><ellipse cx="323.4" cy="142.0" rx="3.8" ry="1.4" fill="#171717" transform="rotate(27 323.4 142.0)"/><ellipse cx="435.9" cy="130.7" rx="3.3" ry="1.5" fill="#0f0f0f" transform="rotate(46 435.9 130.7)"/><ellipse cx="453.2" cy="9.3" rx="2.2" ry="1.3" fill="#181818" transform="rotate(27 453.2 9.3)"/><ellipse cx="374.1" cy="134.2" rx="2.6" ry="1.4" fill="#131313" transform="rotate(26 374.1 134.2)"/><ellipse cx="385.1" cy="107.3" rx="3.2" ry="1.3" fill="#0e0e0e" transform="rotate(43 385.1 107.3)"/><ellipse cx="384.3" cy="119.5" rx="3.6" ry="1.1" fill="#111111" transform="rotate(42 384.3 119.5)"/><ellipse cx="497.5" cy="143.8" rx="3.5" ry="1.0" fill="#0c0c0c" transform="rotate(46 497.5 143.8)"/><ellipse cx="450.5" cy="151.3" rx="3.0" ry="1.2" fill="#1a1a1a" transform="rotate(43 450.5 151.3)"/><ellipse cx="430.6" cy="61.0" rx="3.2" ry="1.4" fill="#111111" transform="rotate(40 430.6 61.0)"/><ellipse cx="430.7" cy="163.2" rx="4.1" ry="1.0" fill="#0c0c0c" transform="rotate(31 430.7 163.2)"/><ellipse cx="395.8" cy="109.4" rx="4.1" ry="1.4" fill="#0c0c0c" transform="rotate(43 395.8 109.4)"/><ellipse cx="471.6" cy="158.2" rx="3.5" ry="1.0" fill="#181818" transform="rotate(43 471.6 158.2)"/><ellipse cx="446.8" cy="166.3" rx="3.0" ry="0.9" fill="#141414" transform="rotate(43 446.8 166.3)"/><ellipse cx="352.6" cy="137.8" rx="4.3" ry="1.0" fill="#151515" transform="rotate(40 352.6 137.8)"/><ellipse cx="404.2" cy="43.2" rx="2.8" ry="1.3" fill="#181818" transform="rotate(35 404.2 43.2)"/><ellipse cx="330.7" cy="147.6" rx="4.0" ry="1.0" fill="#141414" transform="rotate(45 330.7 147.6)"/><ellipse cx="485.8" cy="98.1" rx="3.3" ry="1.2" fill="#0e0e0e" transform="rotate(29 485.8 98.1)"/><ellipse cx="348.8" cy="129.3" rx="3.0" ry="1.2" fill="#121212" transform="rotate(36 348.8 129.3)"/><ellipse cx="342.6" cy="15.1" rx="4.5" ry="1.1" fill="#0d0d0d" transform="rotate(39 342.6 15.1)"/><ellipse cx="466.8" cy="34.5" rx="3.6" ry="1.0" fill="#131313" transform="rotate(25 466.8 34.5)"/><ellipse cx="320.1" cy="179.6" rx="4.2" ry="1.1" fill="#141414" transform="rotate(31 320.1 179.6)"/><ellipse cx="465.2" cy="81.4" rx="4.4" ry="1.3" fill="#181818" transform="rotate(46 465.2 81.4)"/><ellipse cx="363.0" cy="13.9" rx="2.7" ry="0.9" fill="#0d0d0d" transform="rotate(26 363.0 13.9)"/><ellipse cx="422.1" cy="158.8" rx="3.3" ry="1.5" fill="#191919" transform="rotate(26 422.1 158.8)"/><ellipse cx="430.0" cy="76.4" rx="2.5" ry="1.5" fill="#0f0f0f" transform="rotate(37 430.0 76.4)"/><ellipse cx="438.3" cy="173.7" rx="3.7" ry="1.1" fill="#121212" transform="rotate(29 438.3 173.7)"/><ellipse cx="501.5" cy="179.9" rx="2.7" ry="0.8" fill="#0f0f0f" transform="rotate(33 501.5 179.9)"/><ellipse cx="489.3" cy="164.7" rx="4.1" ry="0.8" fill="#181818" transform="rotate(41 489.3 164.7)"/><ellipse cx="439.4" cy="178.8" rx="2.3" ry="0.9" fill="#171717" transform="rotate(46 439.4 178.8)"/><ellipse cx="445.3" cy="59.3" rx="3.6" ry="1.3" fill="#0d0d0d" transform="rotate(32 445.3 59.3)"/><ellipse cx="363.6" cy="28.9" rx="3.3" ry="0.9" fill="#0f0f0f" transform="rotate(28 363.6 28.9)"/><ellipse cx="445.5" cy="9.5" rx="3.8" ry="0.9" fill="#0c0c0c" transform="rotate(45 445.5 9.5)"/><ellipse cx="356.5" cy="169.8" rx="4.2" ry="1.4" fill="#0e0e0e" transform="rotate(35 356.5 169.8)"/><ellipse cx="332.5" cy="168.9" rx="4.1" ry="1.2" fill="#121212" transform="rotate(32 332.5 168.9)"/><ellipse cx="473.8" cy="90.4" rx="3.6" ry="0.9" fill="#0f0f0f" transform="rotate(26 473.8 90.4)"/><ellipse cx="452.5" cy="103.6" rx="2.5" ry="1.4" fill="#101010" transform="rotate(34 452.5 103.6)"/><ellipse cx="343.9" cy="54.5" rx="4.1" ry="1.0" fill="#0e0e0e" transform="rotate(36 343.9 54.5)"/><ellipse cx="375.5" cy="164.5" rx="2.5" ry="1.5" fill="#0c0c0c" transform="rotate(45 375.5 164.5)"/><ellipse cx="443.6" cy="44.0" rx="3.3" ry="1.0" fill="#0f0f0f" transform="rotate(29 443.6 44.0)"/><ellipse cx="384.5" cy="179.7" rx="4.5" ry="1.4" fill="#0d0d0d" transform="rotate(31 384.5 179.7)"/><ellipse cx="488.0" cy="17.3" rx="3.9" ry="1.0" fill="#1a1a1a" transform="rotate(25 488.0 17.3)"/><ellipse cx="470.6" cy="66.6" rx="2.5" ry="0.8" fill="#181818" transform="rotate(37 470.6 66.6)"/><ellipse cx="349.8" cy="83.0" rx="4.3" ry="1.0" fill="#141414" transform="rotate(28 349.8 83.0)"/><ellipse cx="348.7" cy="141.4" rx="3.8" ry="0.9" fill="#0d0d0d" transform="rotate(27 348.7 141.4)"/><ellipse cx="432.0" cy="93.5" rx="2.8" ry="0.9" fill="#151515" transform="rotate(41 432.0 93.5)"/><ellipse cx="471.5" cy="108.7" rx="2.7" ry="0.8" fill="#171717" transform="rotate(34 471.5 108.7)"/><ellipse cx="454.0" cy="16.9" rx="4.1" ry="1.0" fill="#181818" transform="rotate(44 454.0 16.9)"/><ellipse cx="409.5" cy="10.0" rx="4.3" ry="1.1" fill="#191919" transform="rotate(31 409.5 10.0)"/><ellipse cx="349.8" cy="152.0" rx="3.0" ry="0.9" fill="#111111" transform="rotate(38 349.8 152.0)"/><ellipse cx="314.5" cy="97.7" rx="3.2" ry="1.2" fill="#0d0d0d" transform="rotate(41 314.5 97.7)"/><ellipse cx="472.5" cy="157.9" rx="2.9" ry="1.3" fill="#111111" transform="rotate(42 472.5 157.9)"/><ellipse cx="325.5" cy="159.2" rx="4.4" ry="1.1" fill="#131313" transform="rotate(37 325.5 159.2)"/><ellipse cx="418.2" cy="10.9" rx="4.4" ry="1.0" fill="#0e0e0e" transform="rotate(27 418.2 10.9)"/><ellipse cx="362.3" cy="149.5" rx="2.3" ry="0.9" fill="#161616" transform="rotate(29 362.3 149.5)"/><ellipse cx="317.0" cy="111.6" rx="3.5" ry="1.2" fill="#161616" transform="rotate(27 317.0 111.6)"/><ellipse cx="482.8" cy="132.1" rx="2.3" ry="0.9" fill="#131313" transform="rotate(36 482.8 132.1)"/><ellipse cx="368.0" cy="28.5" rx="3.1" ry="0.9" fill="#151515" transform="rotate(44 368.0 28.5)"/><ellipse cx="342.2" cy="107.0" rx="3.9" ry="0.9" fill="#181818" transform="rotate(46 342.2 107.0)"/><ellipse cx="389.2" cy="80.5" rx="4.1" ry="1.2" fill="#121212" transform="rotate(46 389.2 80.5)"/><ellipse cx="464.8" cy="66.2" rx="2.8" ry="1.0" fill="#121212" transform="rotate(47 464.8 66.2)"/><ellipse cx="470.1" cy="166.1" rx="4.1" ry="1.4" fill="#0c0c0c" transform="rotate(36 470.1 166.1)"/><ellipse cx="500.0" cy="169.9" rx="2.8" ry="1.1" fill="#151515" transform="rotate(33 500.0 169.9)"/><ellipse cx="416.9" cy="19.4" rx="3.2" ry="1.2" fill="#0c0c0c" transform="rotate(28 416.9 19.4)"/><ellipse cx="502.3" cy="142.4" rx="4.4" ry="1.2" fill="#181818" transform="rotate(44 502.3 142.4)"/><ellipse cx="485.8" cy="13.3" rx="3.7" ry="1.0" fill="#161616" transform="rotate(31 485.8 13.3)"/><ellipse cx="419.1" cy="168.1" rx="3.6" ry="1.0" fill="#131313" transform="rotate(35 419.1 168.1)"/><ellipse cx="498.6" cy="57.3" rx="2.9" ry="1.3" fill="#0d0d0d" transform="rotate(38 498.6 57.3)"/><ellipse cx="499.7" cy="96.7" rx="2.8" ry="1.1" fill="#141414" transform="rotate(28 499.7 96.7)"/><ellipse cx="337.7" cy="30.2" rx="2.9" ry="1.1" fill="#101010" transform="rotate(30 337.7 30.2)"/><ellipse cx="330.7" cy="102.4" rx="4.1" ry="1.2" fill="#141414" transform="rotate(39 330.7 102.4)"/><ellipse cx="352.8" cy="130.9" rx="3.3" ry="1.2" fill="#151515" transform="rotate(35 352.8 130.9)"/><ellipse cx="374.0" cy="49.5" rx="2.7" ry="1.2" fill="#111111" transform="rotate(38 374.0 49.5)"/><ellipse cx="315.9" cy="68.7" rx="4.2" ry="1.0" fill="#141414" transform="rotate(36 315.9 68.7)"/><ellipse cx="369.0" cy="179.1" rx="2.9" ry="1.3" fill="#0e0e0e" transform="rotate(26 369.0 179.1)"/><ellipse cx="483.1" cy="83.9" rx="2.3" ry="1.1" fill="#121212" transform="rotate(41 483.1 83.9)"/><ellipse cx="334.9" cy="46.5" rx="4.4" ry="1.3" fill="#0e0e0e" transform="rotate(32 334.9 46.5)"/><ellipse cx="382.2" cy="124.8" rx="3.6" ry="1.4" fill="#181818" transform="rotate(36 382.2 124.8)"/><ellipse cx="457.4" cy="136.6" rx="3.9" ry="1.1" fill="#171717" transform="rotate(41 457.4 136.6)"/><ellipse cx="491.6" cy="29.4" rx="4.2" ry="0.8" fill="#171717" transform="rotate(38 491.6 29.4)"/><ellipse cx="410.5" cy="174.8" rx="3.5" ry="1.1" fill="#171717" transform="rotate(44 410.5 174.8)"/><ellipse cx="431.8" cy="73.3" rx="3.2" ry="1.1" fill="#171717" transform="rotate(31 431.8 73.3)"/><ellipse cx="389.6" cy="103.9" rx="3.1" ry="1.0" fill="#181818" transform="rotate(44 389.6 103.9)"/><ellipse cx="410.8" cy="84.6" rx="2.6" ry="1.0" fill="#0e0e0e" transform="rotate(38 410.8 84.6)"/><ellipse cx="426.8" cy="22.6" rx="4.3" ry="1.0" fill="#181818" transform="rotate(43 426.8 22.6)"/><ellipse cx="500.2" cy="42.8" rx="3.2" ry="1.4" fill="#0c0c0c" transform="rotate(26 500.2 42.8)"/><ellipse cx="423.5" cy="93.8" rx="4.3" ry="1.3" fill="#141414" transform="rotate(47 423.5 93.8)"/><ellipse cx="414.3" cy="97.3" rx="3.8" ry="1.1" fill="#111111" transform="rotate(38 414.3 97.3)"/><ellipse cx="381.9" cy="172.2" rx="3.8" ry="1.2" fill="#0d0d0d" transform="rotate(33 381.9 172.2)"/><ellipse cx="391.6" cy="105.0" rx="3.5" ry="1.4" fill="#1a1a1a" transform="rotate(36 391.6 105.0)"/><ellipse cx="399.3" cy="116.0" rx="4.5" ry="1.0" fill="#141414" transform="rotate(43 399.3 116.0)"/><ellipse cx="346.8" cy="62.6" rx="4.5" ry="1.4" fill="#131313" transform="rotate(27 346.8 62.6)"/><ellipse cx="487.7" cy="127.3" rx="4.1" ry="1.5" fill="#191919" transform="rotate(34 487.7 127.3)"/><ellipse cx="344.0" cy="57.7" rx="3.4" ry="1.2" fill="#0e0e0e" transform="rotate(29 344.0 57.7)"/><ellipse cx="436.2" cy="112.2" rx="3.0" ry="1.5" fill="#151515" transform="rotate(26 436.2 112.2)"/><ellipse cx="393.7" cy="144.3" rx="2.9" ry="1.3" fill="#0c0c0c" transform="rotate(32 393.7 144.3)"/><ellipse cx="477.5" cy="109.3" rx="3.7" ry="0.9" fill="#131313" transform="rotate(37 477.5 109.3)"/><ellipse cx="365.4" cy="119.8" rx="3.4" ry="1.5" fill="#141414" transform="rotate(34 365.4 119.8)"/><ellipse cx="337.2" cy="34.6" rx="3.9" ry="0.9" fill="#0d0d0d" transform="rotate(29 337.2 34.6)"/><ellipse cx="415.3" cy="150.5" rx="3.6" ry="1.4" fill="#0c0c0c" transform="rotate(25 415.3 150.5)"/><ellipse cx="463.6" cy="63.5" rx="3.8" ry="1.0" fill="#0e0e0e" transform="rotate(31 463.6 63.5)"/><ellipse cx="333.0" cy="164.6" rx="3.5" ry="1.0" fill="#121212" transform="rotate(33 333.0 164.6)"/><ellipse cx="324.2" cy="162.3" rx="3.5" ry="1.5" fill="#121212" transform="rotate(39 324.2 162.3)"/><ellipse cx="362.1" cy="15.0" rx="4.3" ry="1.4" fill="#101010" transform="rotate(45 362.1 15.0)"/><ellipse cx="472.4" cy="60.1" rx="3.6" ry="1.5" fill="#131313" transform="rotate(46 472.4 60.1)"/><ellipse cx="360.9" cy="75.1" rx="3.9" ry="1.0" fill="#101010" transform="rotate(44 360.9 75.1)"/><ellipse cx="407.9" cy="145.2" rx="2.8" ry="0.9" fill="#111111" transform="rotate(29 407.9 145.2)"/><ellipse cx="502.7" cy="57.9" rx="3.5" ry="0.9" fill="#141414" transform="rotate(33 502.7 57.9)"/><ellipse cx="392.1" cy="18.7" rx="2.5" ry="1.4" fill="#111111" transform="rotate(30 392.1 18.7)"/><ellipse cx="350.8" cy="56.6" rx="2.7" ry="0.8" fill="#161616" transform="rotate(33 350.8 56.6)"/><ellipse cx="343.9" cy="130.1" rx="2.4" ry="1.0" fill="#181818" transform="rotate(28 343.9 130.1)"/><ellipse cx="399.9" cy="152.8" rx="4.1" ry="0.9" fill="#111111" transform="rotate(41 399.9 152.8)"/><ellipse cx="386.9" cy="174.1" rx="2.7" ry="1.5" fill="#131313" transform="rotate(30 386.9 174.1)"/><ellipse cx="401.7" cy="30.1" rx="3.8" ry="1.0" fill="#191919" transform="rotate(38 401.7 30.1)"/><ellipse cx="385.2" cy="50.1" rx="3.6" ry="0.9" fill="#191919" transform="rotate(28 385.2 50.1)"/><ellipse cx="413.4" cy="101.7" rx="2.8" ry="1.3" fill="#111111" transform="rotate(39 413.4 101.7)"/><ellipse cx="424.1" cy="61.4" rx="3.1" ry="0.9" fill="#0e0e0e" transform="rotate(44 424.1 61.4)"/><ellipse cx="376.1" cy="122.6" rx="2.5" ry="1.2" fill="#111111" transform="rotate(36 376.1 122.6)"/><ellipse cx="371.4" cy="18.8" rx="2.9" ry="1.0" fill="#0d0d0d" transform="rotate(41 371.4 18.8)"/><ellipse cx="368.5" cy="77.5" rx="4.3" ry="1.3" fill="#191919" transform="rotate(44 368.5 77.5)"/><ellipse cx="339.3" cy="55.4" rx="2.3" ry="1.3" fill="#161616" transform="rotate(33 339.3 55.4)"/><ellipse cx="393.9" cy="122.0" rx="3.8" ry="1.0" fill="#181818" transform="rotate(33 393.9 122.0)"/><ellipse cx="436.0" cy="38.9" rx="2.5" ry="1.4" fill="#171717" transform="rotate(41 436.0 38.9)"/><ellipse cx="321.5" cy="14.3" rx="2.6" ry="0.9" fill="#101010" transform="rotate(33 321.5 14.3)"/><ellipse cx="321.2" cy="61.4" rx="3.7" ry="0.9" fill="#181818" transform="rotate(38 321.2 61.4)"/><ellipse cx="453.1" cy="51.6" rx="3.2" ry="1.3" fill="#111111" transform="rotate(25 453.1 51.6)"/><ellipse cx="475.9" cy="142.4" rx="2.9" ry="0.8" fill="#191919" transform="rotate(38 475.9 142.4)"/><ellipse cx="322.8" cy="49.8" rx="2.5" ry="1.4" fill="#0f0f0f" transform="rotate(45 322.8 49.8)"/><ellipse cx="459.5" cy="22.3" rx="3.8" ry="1.1" fill="#171717" transform="rotate(43 459.5 22.3)"/><ellipse cx="368.3" cy="22.9" rx="4.4" ry="1.1" fill="#1a1a1a" transform="rotate(40 368.3 22.9)"/><ellipse cx="457.3" cy="151.7" rx="3.6" ry="1.1" fill="#0c0c0c" transform="rotate(40 457.3 151.7)"/><ellipse cx="397.0" cy="96.4" rx="4.3" ry="0.9" fill="#171717" transform="rotate(26 397.0 96.4)"/><ellipse cx="450.4" cy="147.5" rx="2.8" ry="1.2" fill="#1a1a1a" transform="rotate(39 450.4 147.5)"/><ellipse cx="419.4" cy="50.7" rx="2.3" ry="1.1" fill="#121212" transform="rotate(29 419.4 50.7)"/><ellipse cx="374.0" cy="31.1" rx="3.8" ry="1.3" fill="#0f0f0f" transform="rotate(30 374.0 31.1)"/><ellipse cx="413.9" cy="84.7" rx="4.4" ry="1.0" fill="#101010" transform="rotate(44 413.9 84.7)"/><ellipse cx="341.2" cy="105.3" rx="3.0" ry="1.4" fill="#141414" transform="rotate(42 341.2 105.3)"/><ellipse cx="346.5" cy="123.3" rx="3.6" ry="1.1" fill="#171717" transform="rotate(43 346.5 123.3)"/><ellipse cx="335.9" cy="57.6" rx="3.0" ry="0.9" fill="#0c0c0c" transform="rotate(31 335.9 57.6)"/><ellipse cx="352.0" cy="129.4" rx="3.2" ry="0.9" fill="#101010" transform="rotate(35 352.0 129.4)"/><ellipse cx="384.2" cy="36.5" rx="2.4" ry="0.8" fill="#1b1b1b" transform="rotate(42 384.2 36.5)"/><ellipse cx="329.9" cy="132.1" rx="4.5" ry="1.2" fill="#0d0d0d" transform="rotate(36 329.9 132.1)"/><ellipse cx="398.1" cy="40.3" rx="3.4" ry="0.8" fill="#1a1a1a" transform="rotate(39 398.1 40.3)"/><ellipse cx="435.8" cy="170.0" rx="3.7" ry="1.0" fill="#0f0f0f" transform="rotate(28 435.8 170.0)"/><ellipse cx="319.0" cy="142.1" rx="4.1" ry="1.0" fill="#0e0e0e" transform="rotate(39 319.0 142.1)"/><ellipse cx="478.2" cy="168.5" rx="2.6" ry="1.3" fill="#181818" transform="rotate(41 478.2 168.5)"/><ellipse cx="377.2" cy="39.4" rx="4.1" ry="1.0" fill="#111111" transform="rotate(37 377.2 39.4)"/><ellipse cx="385.5" cy="152.0" rx="2.8" ry="0.8" fill="#141414" transform="rotate(39 385.5 152.0)"/><ellipse cx="473.1" cy="130.1" rx="4.3" ry="1.5" fill="#131313" transform="rotate(36 473.1 130.1)"/><ellipse cx="344.2" cy="59.4" rx="3.5" ry="0.9" fill="#161616" transform="rotate(29 344.2 59.4)"/><ellipse cx="399.8" cy="176.0" rx="2.4" ry="0.8" fill="#121212" transform="rotate(29 399.8 176.0)"/><ellipse cx="454.3" cy="7.8" rx="4.1" ry="1.4" fill="#181818" transform="rotate(34 454.3 7.8)"/><ellipse cx="368.7" cy="122.4" rx="3.4" ry="1.1" fill="#111111" transform="rotate(35 368.7 122.4)"/><ellipse cx="443.2" cy="151.0" rx="4.3" ry="0.9" fill="#101010" transform="rotate(35 443.2 151.0)"/><ellipse cx="423.2" cy="67.9" rx="2.6" ry="0.9" fill="#101010" transform="rotate(35 423.2 67.9)"/><ellipse cx="502.6" cy="165.4" rx="4.2" ry="1.5" fill="#1a1a1a" transform="rotate(39 502.6 165.4)"/><ellipse cx="471.4" cy="17.7" rx="3.8" ry="1.2" fill="#101010" transform="rotate(38 471.4 17.7)"/><ellipse cx="499.0" cy="90.9" rx="3.7" ry="1.0" fill="#111111" transform="rotate(44 499.0 90.9)"/><ellipse cx="319.0" cy="40.2" rx="3.8" ry="1.1" fill="#0d0d0d" transform="rotate(40 319.0 40.2)"/><ellipse cx="386.0" cy="108.4" rx="3.2" ry="1.2" fill="#141414" transform="rotate(34 386.0 108.4)"/><ellipse cx="335.8" cy="38.7" rx="4.2" ry="1.2" fill="#0d0d0d" transform="rotate(44 335.8 38.7)"/><ellipse cx="362.9" cy="23.8" rx="3.4" ry="1.0" fill="#131313" transform="rotate(37 362.9 23.8)"/><ellipse cx="357.7" cy="107.0" rx="2.5" ry="1.2" fill="#141414" transform="rotate(27 357.7 107.0)"/><ellipse cx="393.0" cy="20.1" rx="3.2" ry="1.4" fill="#141414" transform="rotate(41 393.0 20.1)"/><ellipse cx="460.9" cy="27.2" rx="4.5" ry="1.3" fill="#0d0d0d" transform="rotate(43 460.9 27.2)"/><ellipse cx="389.9" cy="37.1" rx="4.4" ry="1.2" fill="#171717" transform="rotate(28 389.9 37.1)"/><ellipse cx="464.6" cy="17.3" rx="2.7" ry="1.1" fill="#0c0c0c" transform="rotate(38 464.6 17.3)"/><ellipse cx="355.1" cy="59.5" rx="3.8" ry="1.1" fill="#191919" transform="rotate(39 355.1 59.5)"/><ellipse cx="483.3" cy="105.3" rx="4.3" ry="1.4" fill="#0e0e0e" transform="rotate(41 483.3 105.3)"/><ellipse cx="380.0" cy="140.2" rx="3.8" ry="1.4" fill="#0d0d0d" transform="rotate(33 380.0 140.2)"/><ellipse cx="457.1" cy="172.3" rx="3.9" ry="0.8" fill="#151515" transform="rotate(27 457.1 172.3)"/><ellipse cx="420.4" cy="147.0" rx="2.5" ry="1.4" fill="#161616" transform="rotate(31 420.4 147.0)"/><ellipse cx="351.2" cy="85.0" rx="4.1" ry="1.2" fill="#0d0d0d" transform="rotate(25 351.2 85.0)"/><ellipse cx="335.1" cy="146.6" rx="2.6" ry="1.2" fill="#101010" transform="rotate(40 335.1 146.6)"/><ellipse cx="387.7" cy="32.4" rx="4.2" ry="1.2" fill="#161616" transform="rotate(43 387.7 32.4)"/><ellipse cx="498.2" cy="9.7" rx="3.0" ry="0.9" fill="#131313" transform="rotate(44 498.2 9.7)"/><ellipse cx="469.4" cy="13.5" rx="2.6" ry="1.4" fill="#161616" transform="rotate(34 469.4 13.5)"/><ellipse cx="406.2" cy="34.8" rx="4.1" ry="1.1" fill="#191919" transform="rotate(38 406.2 34.8)"/><ellipse cx="328.4" cy="64.6" rx="2.7" ry="1.4" fill="#141414" transform="rotate(26 328.4 64.6)"/><ellipse cx="346.6" cy="70.1" rx="3.3" ry="1.2" fill="#111111" transform="rotate(33 346.6 70.1)"/><ellipse cx="314.8" cy="108.1" rx="3.0" ry="0.8" fill="#131313" transform="rotate(47 314.8 108.1)"/><ellipse cx="322.4" cy="32.7" rx="3.7" ry="1.0" fill="#101010" transform="rotate(36 322.4 32.7)"/><ellipse cx="364.6" cy="106.3" rx="3.4" ry="1.5" fill="#1b1b1b" transform="rotate(26 364.6 106.3)"/><ellipse cx="422.7" cy="141.4" rx="4.2" ry="1.3" fill="#151515" transform="rotate(39 422.7 141.4)"/><ellipse cx="384.2" cy="56.3" rx="4.0" ry="1.4" fill="#1a1a1a" transform="rotate(40 384.2 56.3)"/><ellipse cx="372.8" cy="140.1" rx="3.9" ry="1.2" fill="#151515" transform="rotate(33 372.8 140.1)"/><ellipse cx="420.8" cy="77.9" rx="2.3" ry="1.0" fill="#101010" transform="rotate(47 420.8 77.9)"/><ellipse cx="407.3" cy="71.2" rx="2.8" ry="1.0" fill="#111111" transform="rotate(28 407.3 71.2)"/><ellipse cx="315.0" cy="158.8" rx="3.2" ry="1.1" fill="#141414" transform="rotate(32 315.0 158.8)"/><ellipse cx="346.5" cy="18.8" rx="2.9" ry="1.0" fill="#171717" transform="rotate(37 346.5 18.8)"/><ellipse cx="496.0" cy="66.5" rx="4.3" ry="1.2" fill="#0d0d0d" transform="rotate(29 496.0 66.5)"/><ellipse cx="426.6" cy="179.1" rx="3.0" ry="1.3" fill="#121212" transform="rotate(44 426.6 179.1)"/>
<polygon points="424.2,31.6 444.5,31.6 444.5,45.5 435.1,45.5 435.1,48.4 424.2,48.4 424.2,42.3 418.6,42.3 418.6,34.0 424.2,34.0" fill="url(#ga)" stroke="#050505" stroke-width="1.3"/>
<polygon points="404.5,91.2 408.2,91.2 408.2,88.3 411.8,88.3 411.8,86.1 416.2,86.1 416.2,83.2 419.8,83.2 419.8,80.7 424.2,80.7 424.2,77.8 447.5,77.8 447.5,80.7 451.8,80.7 451.8,83.9 455.5,83.9 455.5,87.5 459.1,87.5 459.1,96.3 455.5,96.3 455.5,100.6 452.5,100.6 452.5,103.5 448.9,103.5 448.9,108.6 431.5,108.6 431.5,106.5 427.1,106.5 427.1,104.3 422.7,104.3 422.7,101.4 418.4,101.4 418.4,99.9 404.5,99.9" fill="url(#gb)" stroke="#050505" stroke-width="1.3"/>
<polygon points="408.9,150.4 444.5,150.4 444.5,168.5 439.5,168.5 439.5,170.7 435.8,170.7 433.6,167.1 425.6,167.1 424.2,170.7 409.6,170.7 409.6,168.1 404.5,168.1 404.5,153.3 408.9,153.3" fill="url(#ga)" stroke="#050505" stroke-width="1.3"/>
</g></g>
<text x="25.4" y="10.6" class="tk" text-anchor="end" >80</text>
<text x="25.4" y="32.7" class="tk" text-anchor="end" >60</text>
<text x="25.4" y="54.8" class="tk" text-anchor="end" >40</text>
<text x="25.4" y="76.9" class="tk" text-anchor="end" >20</text>
<text x="25.4" y="99.0" class="tk" text-anchor="end" >0</text>
<text x="25.4" y="121.1" class="tk" text-anchor="end" >-20</text>
<text x="25.4" y="143.2" class="tk" text-anchor="end" >-40</text>
<text x="25.4" y="165.3" class="tk" text-anchor="end" >-60</text>
<text x="28.2" y="191.9" class="tk" text-anchor="middle" >-0. 4</text>
<text x="66.8" y="191.9" class="tk" text-anchor="middle" >-0. 2</text>
<text x="105.5" y="191.9" class="tk" text-anchor="middle" >0</text>
<text x="144.1" y="191.9" class="tk" text-anchor="middle" >0. 2</text>
<text x="182.8" y="191.9" class="tk" text-anchor="middle" >0. 4</text>
<text x="221.4" y="191.9" class="tk" text-anchor="middle" >0. 6</text>
<text x="125.5" y="202.6" class="lb" text-anchor="middle" >Doppler Frequency/Hz</text>
<text transform="translate(10.8,94.7) rotate(-90)" class="lb" text-anchor="middle">Angle/<tspan font-size="6.5" dy="-2.5">o</tspan></text>
<rect x="233.2" y="7.2" width="10.6" height="173.8" fill="url(#cb)" stroke="#666" stroke-width="0.3"/>
<line x1="242.3" x2="243.8" y1="21.0" y2="21.0" stroke="#444" stroke-width="0.4"/>
<text x="246.4" y="23.5" class="tk" text-anchor="start" >-40</text>
<line x1="242.3" x2="243.8" y1="47.8" y2="47.8" stroke="#444" stroke-width="0.4"/>
<text x="246.4" y="50.3" class="tk" text-anchor="start" >-50</text>
<line x1="242.3" x2="243.8" y1="74.5" y2="74.5" stroke="#444" stroke-width="0.4"/>
<text x="246.4" y="77.0" class="tk" text-anchor="start" >-60</text>
<line x1="242.3" x2="243.8" y1="101.3" y2="101.3" stroke="#444" stroke-width="0.4"/>
<text x="246.4" y="103.8" class="tk" text-anchor="start" >-70</text>
<line x1="242.3" x2="243.8" y1="128.1" y2="128.1" stroke="#444" stroke-width="0.4"/>
<text x="246.4" y="130.6" class="tk" text-anchor="start" >-80</text>
<line x1="242.3" x2="243.8" y1="154.8" y2="154.8" stroke="#444" stroke-width="0.4"/>
<text x="246.4" y="157.3" class="tk" text-anchor="start" >-90</text>
<line x1="242.3" x2="243.8" y1="181.6" y2="181.6" stroke="#444" stroke-width="0.4"/>
<text x="246.4" y="184.1" class="tk" text-anchor="start" >-100</text>
<text x="311.4" y="10.6" class="tk" text-anchor="end" >80</text>
<text x="311.4" y="32.7" class="tk" text-anchor="end" >60</text>
<text x="311.4" y="54.8" class="tk" text-anchor="end" >40</text>
<text x="311.4" y="76.9" class="tk" text-anchor="end" >20</text>
<text x="311.4" y="99.0" class="tk" text-anchor="end" >0</text>
<text x="311.4" y="121.1" class="tk" text-anchor="end" >-20</text>
<text x="311.4" y="143.2" class="tk" text-anchor="end" >-40</text>
<text x="311.4" y="165.3" class="tk" text-anchor="end" >-60</text>
<text x="314.2" y="191.9" class="tk" text-anchor="middle" >-0. 4</text>
<text x="352.8" y="191.9" class="tk" text-anchor="middle" >-0. 2</text>
<text x="391.5" y="191.9" class="tk" text-anchor="middle" >0</text>
<text x="430.1" y="191.9" class="tk" text-anchor="middle" >0. 2</text>
<text x="468.8" y="191.9" class="tk" text-anchor="middle" >0. 4</text>
<text x="507.4" y="191.9" class="tk" text-anchor="middle" >0. 6</text>
<text x="411.5" y="202.6" class="lb" text-anchor="middle" >Doppler Frequency/Hz</text>
<text transform="translate(296.8,94.7) rotate(-90)" class="lb" text-anchor="middle">Angle/<tspan font-size="6.5" dy="-2.5">o</tspan></text>
<rect x="519.2" y="7.2" width="10.6" height="173.8" fill="url(#cb)" stroke="#666" stroke-width="0.3"/>
<line x1="528.3" x2="529.8" y1="21.0" y2="21.0" stroke="#444" stroke-width="0.4"/>
<text x="532.4" y="23.5" class="tk" text-anchor="start" >-40</text>
<line x1="528.3" x2="529.8" y1="47.8" y2="47.8" stroke="#444" stroke-width="0.4"/>
<text x="532.4" y="50.3" class="tk" text-anchor="start" >-50</text>
<line x1="528.3" x2="529.8" y1="74.5" y2="74.5" stroke="#444" stroke-width="0.4"/>
<text x="532.4" y="77.0" class="tk" text-anchor="start" >-60</text>
<line x1="528.3" x2="529.8" y1="101.3" y2="101.3" stroke="#444" stroke-width="0.4"/>
<text x="532.4" y="103.8" class="tk" text-anchor="start" >-70</text>
<line x1="528.3" x2="529.8" y1="128.1" y2="128.1" stroke="#444" stroke-width="0.4"/>
<text x="532.4" y="130.6" class="tk" text-anchor="start" >-80</text>
<line x1="528.3" x2="529.8" y1="154.8" y2="154.8" stroke="#444" stroke-width="0.4"/>
<text x="532.4" y="157.3" class="tk" text-anchor="start" >-90</text>
<line x1="528.3" x2="529.8" y1="181.6" y2="181.6" stroke="#444" stroke-width="0.4"/>
<text x="532.4" y="184.1" class="tk" text-anchor="start" >-100</text>
<text x="138.2" y="217.0" class="cp" text-anchor="middle" >(a)</text>
<text x="424.5" y="217.0" class="cp" text-anchor="middle" >(b)</text>
<line x1="57.5" x2="57.5" y1="237.3" y2="412.0" stroke="#e8e8e8" stroke-width="0.6"/>
<line x1="85.5" x2="85.5" y1="237.3" y2="412.0" stroke="#e8e8e8" stroke-width="0.6"/>
<line x1="113.5" x2="113.5" y1="237.3" y2="412.0" stroke="#e8e8e8" stroke-width="0.6"/>
<line x1="141.5" x2="141.5" y1="237.3" y2="412.0" stroke="#e8e8e8" stroke-width="0.6"/>
<line x1="169.5" x2="169.5" y1="237.3" y2="412.0" stroke="#e8e8e8" stroke-width="0.6"/>
<line x1="197.5" x2="197.5" y1="237.3" y2="412.0" stroke="#e8e8e8" stroke-width="0.6"/>
<line x1="225.5" x2="225.5" y1="237.3" y2="412.0" stroke="#e8e8e8" stroke-width="0.6"/>
<line x1="253.5" x2="253.5" y1="237.3" y2="412.0" stroke="#e8e8e8" stroke-width="0.6"/>
<line x1="32.7" x2="254.9" y1="266.2" y2="266.2" stroke="#e8e8e8" stroke-width="0.6"/>
<line x1="32.7" x2="254.9" y1="295.4" y2="295.4" stroke="#e8e8e8" stroke-width="0.6"/>
<line x1="32.7" x2="254.9" y1="324.6" y2="324.6" stroke="#e8e8e8" stroke-width="0.6"/>
<line x1="32.7" x2="254.9" y1="353.8" y2="353.8" stroke="#e8e8e8" stroke-width="0.6"/>
<line x1="32.7" x2="254.9" y1="383.0" y2="383.0" stroke="#e8e8e8" stroke-width="0.6"/>
<rect x="32.7" y="237.3" width="222.2" height="174.7" fill="none" stroke="#b4b4b4" stroke-width="1.35"/>
<line x1="57.5" x2="57.5" y1="412.0" y2="410.0" stroke="#777" stroke-width="0.5"/>
<line x1="57.5" x2="57.5" y1="237.3" y2="239.3" stroke="#999" stroke-width="0.5"/>
<line x1="85.5" x2="85.5" y1="412.0" y2="410.0" stroke="#777" stroke-width="0.5"/>
<line x1="85.5" x2="85.5" y1="237.3" y2="239.3" stroke="#999" stroke-width="0.5"/>
<line x1="113.5" x2="113.5" y1="412.0" y2="410.0" stroke="#777" stroke-width="0.5"/>
<line x1="113.5" x2="113.5" y1="237.3" y2="239.3" stroke="#999" stroke-width="0.5"/>
<line x1="141.5" x2="141.5" y1="412.0" y2="410.0" stroke="#777" stroke-width="0.5"/>
<line x1="141.5" x2="141.5" y1="237.3" y2="239.3" stroke="#999" stroke-width="0.5"/>
<line x1="169.5" x2="169.5" y1="412.0" y2="410.0" stroke="#777" stroke-width="0.5"/>
<line x1="169.5" x2="169.5" y1="237.3" y2="239.3" stroke="#999" stroke-width="0.5"/>
<line x1="197.5" x2="197.5" y1="412.0" y2="410.0" stroke="#777" stroke-width="0.5"/>
<line x1="197.5" x2="197.5" y1="237.3" y2="239.3" stroke="#999" stroke-width="0.5"/>
<line x1="225.5" x2="225.5" y1="412.0" y2="410.0" stroke="#777" stroke-width="0.5"/>
<line x1="225.5" x2="225.5" y1="237.3" y2="239.3" stroke="#999" stroke-width="0.5"/>
<line x1="253.5" x2="253.5" y1="412.0" y2="410.0" stroke="#777" stroke-width="0.5"/>
<line x1="253.5" x2="253.5" y1="237.3" y2="239.3" stroke="#999" stroke-width="0.5"/>
<line x1="32.7" x2="34.7" y1="266.2" y2="266.2" stroke="#777" stroke-width="0.5"/>
<line x1="254.9" x2="252.9" y1="266.2" y2="266.2" stroke="#999" stroke-width="0.5"/>
<line x1="32.7" x2="34.7" y1="295.4" y2="295.4" stroke="#777" stroke-width="0.5"/>
<line x1="254.9" x2="252.9" y1="295.4" y2="295.4" stroke="#999" stroke-width="0.5"/>
<line x1="32.7" x2="34.7" y1="324.6" y2="324.6" stroke="#777" stroke-width="0.5"/>
<line x1="254.9" x2="252.9" y1="324.6" y2="324.6" stroke="#999" stroke-width="0.5"/>
<line x1="32.7" x2="34.7" y1="353.8" y2="353.8" stroke="#777" stroke-width="0.5"/>
<line x1="254.9" x2="252.9" y1="353.8" y2="353.8" stroke="#999" stroke-width="0.5"/>
<line x1="32.7" x2="34.7" y1="383.0" y2="383.0" stroke="#777" stroke-width="0.5"/>
<line x1="254.9" x2="252.9" y1="383.0" y2="383.0" stroke="#999" stroke-width="0.5"/>
<g clip-path="url(#cc)">
<path d="M32.3 334.8 L36.5 332.9 L40.7 330.9 L44.9 329.0 L49.1 325.9 L53.3 322.8 L57.5 319.9 L61.7 318.9 L65.9 318.3 L70.1 318.9 L74.3 319.6 L78.5 320.9 L82.7 323.9 L86.9 330.4 L91.1 340.6 L95.3 341.7 L99.5 325.8 L103.7 318.9 L107.9 316.9 L112.1 315.8 L116.3 315.5 L120.5 316.1 L124.7 317.9 L128.9 322.8 L133.1 371.9 L137.3 320.2 L141.5 311.7 L145.7 305.9 L149.9 301.8 L154.1 298.3 L158.3 296.7 L162.5 295.7 L166.7 295.4 L170.9 295.4 L175.1 295.4 L179.3 295.8 L183.5 296.9 L187.7 298.3 L191.9 300.5 L196.1 303.1 L200.3 306.3 L204.5 310.3 L208.7 315.5 L212.9 321.5 L217.1 340.9 L221.3 334.9 L225.5 327.6 L229.7 322.8 L233.9 319.2 L238.1 316.7 L242.3 315.5 L246.5 314.2 L250.7 313.8 L254.9 313.5" fill="none" stroke="#22e622" stroke-width="0.55" stroke-linejoin="round"/>
</g>
<path d="M29.4 334.8 L34.3 332.1 L34.3 337.5 Z" fill="none" stroke="#22e622" stroke-width="0.55"/><path d="M33.6 332.9 L38.5 330.2 L38.5 335.6 Z" fill="none" stroke="#22e622" stroke-width="0.55"/><path d="M37.8 330.9 L42.7 328.2 L42.7 333.6 Z" fill="none" stroke="#22e622" stroke-width="0.55"/><path d="M42.0 329.0 L46.9 326.3 L46.9 331.7 Z" fill="none" stroke="#22e622" stroke-width="0.55"/><path d="M46.2 325.9 L51.1 323.2 L51.1 328.6 Z" fill="none" stroke="#22e622" stroke-width="0.55"/><path d="M50.4 322.8 L55.3 320.1 L55.3 325.5 Z" fill="none" stroke="#22e622" stroke-width="0.55"/><path d="M54.6 319.9 L59.5 317.2 L59.5 322.6 Z" fill="none" stroke="#22e622" stroke-width="0.55"/><path d="M58.8 318.9 L63.7 316.2 L63.7 321.6 Z" fill="none" stroke="#22e622" stroke-width="0.55"/><path d="M63.0 318.3 L67.9 315.6 L67.9 321.0 Z" fill="none" stroke="#22e622" stroke-width="0.55"/><path d="M67.2 318.9 L72.1 316.2 L72.1 321.6 Z" fill="none" stroke="#22e622" stroke-width="0.55"/><path d="M71.4 319.6 L76.3 316.9 L76.3 322.3 Z" fill="none" stroke="#22e622" stroke-width="0.55"/><path d="M75.6 320.9 L80.5 318.2 L80.5 323.6 Z" fill="none" stroke="#22e622" stroke-width="0.55"/><path d="M79.8 323.9 L84.7 321.2 L84.7 326.6 Z" fill="none" stroke="#22e622" stroke-width="0.55"/><path d="M84.0 330.4 L88.9 327.7 L88.9 333.1 Z" fill="none" stroke="#22e622" stroke-width="0.55"/><path d="M88.2 340.6 L93.1 337.9 L93.1 343.3 Z" fill="none" stroke="#22e622" stroke-width="0.55"/><path d="M92.4 341.7 L97.3 339.0 L97.3 344.4 Z" fill="none" stroke="#22e622" stroke-width="0.55"/><path d="M96.6 325.8 L101.5 323.1 L101.5 328.5 Z" fill="none" stroke="#22e622" stroke-width="0.55"/><path d="M100.8 318.9 L105.7 316.2 L105.7 321.6 Z" fill="none" stroke="#22e622" stroke-width="0.55"/><path d="M105.0 316.9 L109.9 314.2 L109.9 319.6 Z" fill="none" stroke="#22e622" stroke-width="0.55"/><path d="M109.2 315.8 L114.1 313.1 L114.1 318.5 Z" fill="none" stroke="#22e622" stroke-width="0.55"/><path d="M113.4 315.5 L118.3 312.8 L118.3 318.2 Z" fill="none" stroke="#22e622" stroke-width="0.55"/><path d="M117.6 316.1 L122.5 313.4 L122.5 318.8 Z" fill="none" stroke="#22e622" stroke-width="0.55"/><path d="M121.8 317.9 L126.7 315.2 L126.7 320.6 Z" fill="none" stroke="#22e622" stroke-width="0.55"/><path d="M126.0 322.8 L130.9 320.1 L130.9 325.5 Z" fill="none" stroke="#22e622" stroke-width="0.55"/><path d="M130.2 371.9 L135.1 369.2 L135.1 374.6 Z" fill="none" stroke="#22e622" stroke-width="0.55"/><path d="M134.4 320.2 L139.3 317.5 L139.3 322.9 Z" fill="none" stroke="#22e622" stroke-width="0.55"/><path d="M138.6 311.7 L143.5 309.0 L143.5 314.4 Z" fill="none" stroke="#22e622" stroke-width="0.55"/><path d="M142.8 305.9 L147.7 303.2 L147.7 308.6 Z" fill="none" stroke="#22e622" stroke-width="0.55"/><path d="M147.0 301.8 L151.9 299.1 L151.9 304.5 Z" fill="none" stroke="#22e622" stroke-width="0.55"/><path d="M151.2 298.3 L156.1 295.6 L156.1 301.0 Z" fill="none" stroke="#22e622" stroke-width="0.55"/><path d="M155.4 296.7 L160.3 294.0 L160.3 299.4 Z" fill="none" stroke="#22e622" stroke-width="0.55"/><path d="M159.6 295.7 L164.5 293.0 L164.5 298.4 Z" fill="none" stroke="#22e622" stroke-width="0.55"/><path d="M163.8 295.4 L168.7 292.7 L168.7 298.1 Z" fill="none" stroke="#22e622" stroke-width="0.55"/><path d="M168.0 295.4 L172.9 292.7 L172.9 298.1 Z" fill="none" stroke="#22e622" stroke-width="0.55"/><path d="M172.2 295.4 L177.1 292.7 L177.1 298.1 Z" fill="none" stroke="#22e622" stroke-width="0.55"/><path d="M176.4 295.8 L181.3 293.1 L181.3 298.5 Z" fill="none" stroke="#22e622" stroke-width="0.55"/><path d="M180.6 296.9 L185.5 294.2 L185.5 299.6 Z" fill="none" stroke="#22e622" stroke-width="0.55"/><path d="M184.8 298.3 L189.7 295.6 L189.7 301.0 Z" fill="none" stroke="#22e622" stroke-width="0.55"/><path d="M189.0 300.5 L193.9 297.8 L193.9 303.2 Z" fill="none" stroke="#22e622" stroke-width="0.55"/><path d="M193.2 303.1 L198.1 300.4 L198.1 305.8 Z" fill="none" stroke="#22e622" stroke-width="0.55"/><path d="M197.4 306.3 L202.3 303.6 L202.3 309.0 Z" fill="none" stroke="#22e622" stroke-width="0.55"/><path d="M201.6 310.3 L206.5 307.6 L206.5 313.0 Z" fill="none" stroke="#22e622" stroke-width="0.55"/><path d="M205.8 315.5 L210.7 312.8 L210.7 318.2 Z" fill="none" stroke="#22e622" stroke-width="0.55"/><path d="M210.0 321.5 L214.9 318.8 L214.9 324.2 Z" fill="none" stroke="#22e622" stroke-width="0.55"/><path d="M214.2 340.9 L219.1 338.2 L219.1 343.6 Z" fill="none" stroke="#22e622" stroke-width="0.55"/><path d="M218.4 334.9 L223.3 332.2 L223.3 337.6 Z" fill="none" stroke="#22e622" stroke-width="0.55"/><path d="M222.6 327.6 L227.5 324.9 L227.5 330.3 Z" fill="none" stroke="#22e622" stroke-width="0.55"/><path d="M226.8 322.8 L231.7 320.1 L231.7 325.5 Z" fill="none" stroke="#22e622" stroke-width="0.55"/><path d="M231.0 319.2 L235.9 316.5 L235.9 321.9 Z" fill="none" stroke="#22e622" stroke-width="0.55"/><path d="M235.2 316.7 L240.1 314.0 L240.1 319.4 Z" fill="none" stroke="#22e622" stroke-width="0.55"/><path d="M239.4 315.5 L244.3 312.8 L244.3 318.2 Z" fill="none" stroke="#22e622" stroke-width="0.55"/><path d="M243.6 314.2 L248.5 311.5 L248.5 316.9 Z" fill="none" stroke="#22e622" stroke-width="0.55"/><path d="M247.8 313.8 L252.7 311.1 L252.7 316.5 Z" fill="none" stroke="#22e622" stroke-width="0.55"/><path d="M252.0 313.5 L256.9 310.8 L256.9 316.2 Z" fill="none" stroke="#22e622" stroke-width="0.55"/>
<g clip-path="url(#cc)">
<path d="M32.3 329.8 L36.5 330.9 L40.7 331.9 L44.9 333.3 L49.1 334.8 L53.3 336.8 L57.5 339.9 L61.7 342.8 L65.9 345.5 L70.1 347.6 L74.3 342.8 L78.5 335.8 L82.7 331.7 L86.9 326.8 L91.1 323.4 L95.3 320.8 L99.5 319.3 L103.7 317.9 L107.9 316.9 L112.1 316.4 L116.3 316.9 L120.5 317.9 L124.7 319.3 L128.9 320.8 L133.1 322.2 L137.3 323.6 L141.5 323.6 L145.7 323.1 L149.9 321.7 L154.1 320.8 L158.3 320.2 L162.5 319.8 L166.7 319.8 L170.9 320.2 L175.1 320.8 L179.3 321.7 L183.5 322.7 L187.7 324.1 L191.9 326.0 L196.1 328.1 L200.3 330.3 L204.5 332.3 L208.7 336.1 L212.9 338.0 L217.1 334.9 L221.3 332.5 L225.5 330.6 L229.7 328.8 L233.9 327.6 L238.1 326.5 L242.3 325.5 L246.5 324.4 L250.7 323.6 L254.9 322.8" fill="none" stroke="#3a3a3a" stroke-width="0.55" stroke-linejoin="round"/>
</g>
<path d="M35.2 329.8 L30.3 327.1 L30.3 332.5 Z" fill="none" stroke="#3a3a3a" stroke-width="0.55"/><path d="M39.4 330.9 L34.5 328.2 L34.5 333.6 Z" fill="none" stroke="#3a3a3a" stroke-width="0.55"/><path d="M43.6 331.9 L38.7 329.2 L38.7 334.6 Z" fill="none" stroke="#3a3a3a" stroke-width="0.55"/><path d="M47.8 333.3 L42.9 330.6 L42.9 336.0 Z" fill="none" stroke="#3a3a3a" stroke-width="0.55"/><path d="M52.0 334.8 L47.1 332.1 L47.1 337.5 Z" fill="none" stroke="#3a3a3a" stroke-width="0.55"/><path d="M56.2 336.8 L51.3 334.1 L51.3 339.5 Z" fill="none" stroke="#3a3a3a" stroke-width="0.55"/><path d="M60.4 339.9 L55.5 337.2 L55.5 342.6 Z" fill="none" stroke="#3a3a3a" stroke-width="0.55"/><path d="M64.6 342.8 L59.7 340.1 L59.7 345.5 Z" fill="none" stroke="#3a3a3a" stroke-width="0.55"/><path d="M68.8 345.5 L63.9 342.8 L63.9 348.2 Z" fill="none" stroke="#3a3a3a" stroke-width="0.55"/><path d="M73.0 347.6 L68.1 344.9 L68.1 350.3 Z" fill="none" stroke="#3a3a3a" stroke-width="0.55"/><path d="M77.2 342.8 L72.3 340.1 L72.3 345.5 Z" fill="none" stroke="#3a3a3a" stroke-width="0.55"/><path d="M81.4 335.8 L76.5 333.1 L76.5 338.5 Z" fill="none" stroke="#3a3a3a" stroke-width="0.55"/><path d="M85.6 331.7 L80.7 329.0 L80.7 334.4 Z" fill="none" stroke="#3a3a3a" stroke-width="0.55"/><path d="M89.8 326.8 L84.9 324.1 L84.9 329.5 Z" fill="none" stroke="#3a3a3a" stroke-width="0.55"/><path d="M94.0 323.4 L89.1 320.7 L89.1 326.1 Z" fill="none" stroke="#3a3a3a" stroke-width="0.55"/><path d="M98.2 320.8 L93.3 318.1 L93.3 323.5 Z" fill="none" stroke="#3a3a3a" stroke-width="0.55"/><path d="M102.4 319.3 L97.5 316.6 L97.5 322.0 Z" fill="none" stroke="#3a3a3a" stroke-width="0.55"/><path d="M106.6 317.9 L101.7 315.2 L101.7 320.6 Z" fill="none" stroke="#3a3a3a" stroke-width="0.55"/><path d="M110.8 316.9 L105.9 314.2 L105.9 319.6 Z" fill="none" stroke="#3a3a3a" stroke-width="0.55"/><path d="M115.0 316.4 L110.1 313.7 L110.1 319.1 Z" fill="none" stroke="#3a3a3a" stroke-width="0.55"/><path d="M119.2 316.9 L114.3 314.2 L114.3 319.6 Z" fill="none" stroke="#3a3a3a" stroke-width="0.55"/><path d="M123.4 317.9 L118.5 315.2 L118.5 320.6 Z" fill="none" stroke="#3a3a3a" stroke-width="0.55"/><path d="M127.6 319.3 L122.7 316.6 L122.7 322.0 Z" fill="none" stroke="#3a3a3a" stroke-width="0.55"/><path d="M131.8 320.8 L126.9 318.1 L126.9 323.5 Z" fill="none" stroke="#3a3a3a" stroke-width="0.55"/><path d="M136.0 322.2 L131.1 319.5 L131.1 324.9 Z" fill="none" stroke="#3a3a3a" stroke-width="0.55"/><path d="M140.2 323.6 L135.3 320.9 L135.3 326.3 Z" fill="none" stroke="#3a3a3a" stroke-width="0.55"/><path d="M144.4 323.6 L139.5 320.9 L139.5 326.3 Z" fill="none" stroke="#3a3a3a" stroke-width="0.55"/><path d="M148.6 323.1 L143.7 320.4 L143.7 325.8 Z" fill="none" stroke="#3a3a3a" stroke-width="0.55"/><path d="M152.8 321.7 L147.9 319.0 L147.9 324.4 Z" fill="none" stroke="#3a3a3a" stroke-width="0.55"/><path d="M157.0 320.8 L152.1 318.1 L152.1 323.5 Z" fill="none" stroke="#3a3a3a" stroke-width="0.55"/><path d="M161.2 320.2 L156.3 317.5 L156.3 322.9 Z" fill="none" stroke="#3a3a3a" stroke-width="0.55"/><path d="M165.4 319.8 L160.5 317.1 L160.5 322.5 Z" fill="none" stroke="#3a3a3a" stroke-width="0.55"/><path d="M169.6 319.8 L164.7 317.1 L164.7 322.5 Z" fill="none" stroke="#3a3a3a" stroke-width="0.55"/><path d="M173.8 320.2 L168.9 317.5 L168.9 322.9 Z" fill="none" stroke="#3a3a3a" stroke-width="0.55"/><path d="M178.0 320.8 L173.1 318.1 L173.1 323.5 Z" fill="none" stroke="#3a3a3a" stroke-width="0.55"/><path d="M182.2 321.7 L177.3 319.0 L177.3 324.4 Z" fill="none" stroke="#3a3a3a" stroke-width="0.55"/><path d="M186.4 322.7 L181.5 320.0 L181.5 325.4 Z" fill="none" stroke="#3a3a3a" stroke-width="0.55"/><path d="M190.6 324.1 L185.7 321.4 L185.7 326.8 Z" fill="none" stroke="#3a3a3a" stroke-width="0.55"/><path d="M194.8 326.0 L189.9 323.3 L189.9 328.7 Z" fill="none" stroke="#3a3a3a" stroke-width="0.55"/><path d="M199.0 328.1 L194.1 325.4 L194.1 330.8 Z" fill="none" stroke="#3a3a3a" stroke-width="0.55"/><path d="M203.2 330.3 L198.3 327.6 L198.3 333.0 Z" fill="none" stroke="#3a3a3a" stroke-width="0.55"/><path d="M207.4 332.3 L202.5 329.6 L202.5 335.0 Z" fill="none" stroke="#3a3a3a" stroke-width="0.55"/><path d="M211.6 336.1 L206.7 333.4 L206.7 338.8 Z" fill="none" stroke="#3a3a3a" stroke-width="0.55"/><path d="M215.8 338.0 L210.9 335.3 L210.9 340.7 Z" fill="none" stroke="#3a3a3a" stroke-width="0.55"/><path d="M220.0 334.9 L215.1 332.2 L215.1 337.6 Z" fill="none" stroke="#3a3a3a" stroke-width="0.55"/><path d="M224.2 332.5 L219.3 329.8 L219.3 335.2 Z" fill="none" stroke="#3a3a3a" stroke-width="0.55"/><path d="M228.4 330.6 L223.5 327.9 L223.5 333.3 Z" fill="none" stroke="#3a3a3a" stroke-width="0.55"/><path d="M232.6 328.8 L227.7 326.1 L227.7 331.5 Z" fill="none" stroke="#3a3a3a" stroke-width="0.55"/><path d="M236.8 327.6 L231.9 324.9 L231.9 330.3 Z" fill="none" stroke="#3a3a3a" stroke-width="0.55"/><path d="M241.0 326.5 L236.1 323.8 L236.1 329.2 Z" fill="none" stroke="#3a3a3a" stroke-width="0.55"/><path d="M245.2 325.5 L240.3 322.8 L240.3 328.2 Z" fill="none" stroke="#3a3a3a" stroke-width="0.55"/><path d="M249.4 324.4 L244.5 321.7 L244.5 327.1 Z" fill="none" stroke="#3a3a3a" stroke-width="0.55"/><path d="M253.6 323.6 L248.7 320.9 L248.7 326.3 Z" fill="none" stroke="#3a3a3a" stroke-width="0.55"/><path d="M257.8 322.8 L252.9 320.1 L252.9 325.5 Z" fill="none" stroke="#3a3a3a" stroke-width="0.55"/>
<g clip-path="url(#cc)">
<path d="M32.3 320.9 L36.5 320.9 L40.7 321.4 L44.9 322.0 L49.1 322.5 L53.3 323.9 L57.5 325.9 L61.7 328.2 L65.9 331.4 L70.1 335.8 L74.3 341.4 L78.5 335.8 L82.7 330.1 L86.9 326.0 L91.1 321.4 L95.3 318.9 L99.5 316.9 L103.7 315.0 L107.9 313.9 L112.1 313.3 L116.3 313.3 L120.5 313.9 L124.7 315.0 L128.9 316.3 L133.1 317.9 L137.3 318.9 L141.5 317.7 L145.7 316.4 L149.9 315.4 L154.1 314.4 L158.3 314.2 L162.5 314.4 L166.7 315.1 L170.9 315.8 L175.1 316.7 L179.3 318.2 L183.5 320.1 L187.7 322.7 L191.9 326.6 L196.1 331.3 L200.3 338.6 L204.5 348.5 L208.7 336.1 L212.9 330.1 L217.1 327.6 L221.3 324.0 L225.5 321.5 L229.7 319.6 L233.9 318.2 L238.1 317.1 L242.3 316.3 L246.5 315.7 L250.7 315.2 L254.9 315.0" fill="none" stroke="#1a1aff" stroke-width="0.55" stroke-linejoin="round"/>
</g>
<circle cx="32.3" cy="320.9" r="1.45" fill="#1a1aff"/><circle cx="36.5" cy="320.9" r="1.45" fill="#1a1aff"/><circle cx="40.7" cy="321.4" r="1.45" fill="#1a1aff"/><circle cx="44.9" cy="322.0" r="1.45" fill="#1a1aff"/><circle cx="49.1" cy="322.5" r="1.45" fill="#1a1aff"/><circle cx="53.3" cy="323.9" r="1.45" fill="#1a1aff"/><circle cx="57.5" cy="325.9" r="1.45" fill="#1a1aff"/><circle cx="61.7" cy="328.2" r="1.45" fill="#1a1aff"/><circle cx="65.9" cy="331.4" r="1.45" fill="#1a1aff"/><circle cx="70.1" cy="335.8" r="1.45" fill="#1a1aff"/><circle cx="74.3" cy="341.4" r="1.45" fill="#1a1aff"/><circle cx="78.5" cy="335.8" r="1.45" fill="#1a1aff"/><circle cx="82.7" cy="330.1" r="1.45" fill="#1a1aff"/><circle cx="86.9" cy="326.0" r="1.45" fill="#1a1aff"/><circle cx="91.1" cy="321.4" r="1.45" fill="#1a1aff"/><circle cx="95.3" cy="318.9" r="1.45" fill="#1a1aff"/><circle cx="99.5" cy="316.9" r="1.45" fill="#1a1aff"/><circle cx="103.7" cy="315.0" r="1.45" fill="#1a1aff"/><circle cx="107.9" cy="313.9" r="1.45" fill="#1a1aff"/><circle cx="112.1" cy="313.3" r="1.45" fill="#1a1aff"/><circle cx="116.3" cy="313.3" r="1.45" fill="#1a1aff"/><circle cx="120.5" cy="313.9" r="1.45" fill="#1a1aff"/><circle cx="124.7" cy="315.0" r="1.45" fill="#1a1aff"/><circle cx="128.9" cy="316.3" r="1.45" fill="#1a1aff"/><circle cx="133.1" cy="317.9" r="1.45" fill="#1a1aff"/><circle cx="137.3" cy="318.9" r="1.45" fill="#1a1aff"/><circle cx="141.5" cy="317.7" r="1.45" fill="#1a1aff"/><circle cx="145.7" cy="316.4" r="1.45" fill="#1a1aff"/><circle cx="149.9" cy="315.4" r="1.45" fill="#1a1aff"/><circle cx="154.1" cy="314.4" r="1.45" fill="#1a1aff"/><circle cx="158.3" cy="314.2" r="1.45" fill="#1a1aff"/><circle cx="162.5" cy="314.4" r="1.45" fill="#1a1aff"/><circle cx="166.7" cy="315.1" r="1.45" fill="#1a1aff"/><circle cx="170.9" cy="315.8" r="1.45" fill="#1a1aff"/><circle cx="175.1" cy="316.7" r="1.45" fill="#1a1aff"/><circle cx="179.3" cy="318.2" r="1.45" fill="#1a1aff"/><circle cx="183.5" cy="320.1" r="1.45" fill="#1a1aff"/><circle cx="187.7" cy="322.7" r="1.45" fill="#1a1aff"/><circle cx="191.9" cy="326.6" r="1.45" fill="#1a1aff"/><circle cx="196.1" cy="331.3" r="1.45" fill="#1a1aff"/><circle cx="200.3" cy="338.6" r="1.45" fill="#1a1aff"/><circle cx="204.5" cy="348.5" r="1.45" fill="#1a1aff"/><circle cx="208.7" cy="336.1" r="1.45" fill="#1a1aff"/><circle cx="212.9" cy="330.1" r="1.45" fill="#1a1aff"/><circle cx="217.1" cy="327.6" r="1.45" fill="#1a1aff"/><circle cx="221.3" cy="324.0" r="1.45" fill="#1a1aff"/><circle cx="225.5" cy="321.5" r="1.45" fill="#1a1aff"/><circle cx="229.7" cy="319.6" r="1.45" fill="#1a1aff"/><circle cx="233.9" cy="318.2" r="1.45" fill="#1a1aff"/><circle cx="238.1" cy="317.1" r="1.45" fill="#1a1aff"/><circle cx="242.3" cy="316.3" r="1.45" fill="#1a1aff"/><circle cx="246.5" cy="315.7" r="1.45" fill="#1a1aff"/><circle cx="250.7" cy="315.2" r="1.45" fill="#1a1aff"/><circle cx="254.9" cy="315.0" r="1.45" fill="#1a1aff"/>
<g clip-path="url(#cc)">
<path d="M32.3 324.9 L36.5 326.8 L40.7 327.9 L44.9 329.8 L49.1 333.8 L53.3 339.3 L57.5 348.7 L61.7 391.4 L65.9 352.6 L70.1 348.7 L74.3 352.0 L78.5 367.9 L82.7 339.8 L86.9 328.8 L91.1 320.8 L95.3 316.3 L99.5 312.9 L103.7 310.0 L107.9 307.9 L112.1 306.3 L116.3 305.9 L120.5 306.3 L124.7 307.9 L128.9 310.9 L133.1 316.9 L137.3 337.7 L141.5 319.3 L145.7 309.8 L149.9 303.9 L154.1 299.9 L158.3 297.4 L162.5 295.8 L166.7 295.4 L170.9 295.4 L175.1 295.8 L179.3 297.4 L183.5 299.5 L187.7 301.8 L191.9 305.3 L196.1 309.0 L200.3 313.6 L204.5 319.2 L208.7 328.8 L212.9 383.0 L217.1 333.6 L221.3 328.8 L225.5 328.4 L229.7 331.7 L233.9 339.8 L238.1 354.4 L242.3 338.0 L246.5 328.8 L250.7 323.6 L254.9 320.4" fill="none" stroke="#ff3a3a" stroke-width="0.55" stroke-linejoin="round"/>
</g>
<circle cx="32.3" cy="324.9" r="2.15" fill="none" stroke="#ff3a3a" stroke-width="0.55"/><circle cx="36.5" cy="326.8" r="2.15" fill="none" stroke="#ff3a3a" stroke-width="0.55"/><circle cx="40.7" cy="327.9" r="2.15" fill="none" stroke="#ff3a3a" stroke-width="0.55"/><circle cx="44.9" cy="329.8" r="2.15" fill="none" stroke="#ff3a3a" stroke-width="0.55"/><circle cx="49.1" cy="333.8" r="2.15" fill="none" stroke="#ff3a3a" stroke-width="0.55"/><circle cx="53.3" cy="339.3" r="2.15" fill="none" stroke="#ff3a3a" stroke-width="0.55"/><circle cx="57.5" cy="348.7" r="2.15" fill="none" stroke="#ff3a3a" stroke-width="0.55"/><circle cx="61.7" cy="391.4" r="2.15" fill="none" stroke="#ff3a3a" stroke-width="0.55"/><circle cx="65.9" cy="352.6" r="2.15" fill="none" stroke="#ff3a3a" stroke-width="0.55"/><circle cx="70.1" cy="348.7" r="2.15" fill="none" stroke="#ff3a3a" stroke-width="0.55"/><circle cx="74.3" cy="352.0" r="2.15" fill="none" stroke="#ff3a3a" stroke-width="0.55"/><circle cx="78.5" cy="367.9" r="2.15" fill="none" stroke="#ff3a3a" stroke-width="0.55"/><circle cx="82.7" cy="339.8" r="2.15" fill="none" stroke="#ff3a3a" stroke-width="0.55"/><circle cx="86.9" cy="328.8" r="2.15" fill="none" stroke="#ff3a3a" stroke-width="0.55"/><circle cx="91.1" cy="320.8" r="2.15" fill="none" stroke="#ff3a3a" stroke-width="0.55"/><circle cx="95.3" cy="316.3" r="2.15" fill="none" stroke="#ff3a3a" stroke-width="0.55"/><circle cx="99.5" cy="312.9" r="2.15" fill="none" stroke="#ff3a3a" stroke-width="0.55"/><circle cx="103.7" cy="310.0" r="2.15" fill="none" stroke="#ff3a3a" stroke-width="0.55"/><circle cx="107.9" cy="307.9" r="2.15" fill="none" stroke="#ff3a3a" stroke-width="0.55"/><circle cx="112.1" cy="306.3" r="2.15" fill="none" stroke="#ff3a3a" stroke-width="0.55"/><circle cx="116.3" cy="305.9" r="2.15" fill="none" stroke="#ff3a3a" stroke-width="0.55"/><circle cx="120.5" cy="306.3" r="2.15" fill="none" stroke="#ff3a3a" stroke-width="0.55"/><circle cx="124.7" cy="307.9" r="2.15" fill="none" stroke="#ff3a3a" stroke-width="0.55"/><circle cx="128.9" cy="310.9" r="2.15" fill="none" stroke="#ff3a3a" stroke-width="0.55"/><circle cx="133.1" cy="316.9" r="2.15" fill="none" stroke="#ff3a3a" stroke-width="0.55"/><circle cx="137.3" cy="337.7" r="2.15" fill="none" stroke="#ff3a3a" stroke-width="0.55"/><circle cx="141.5" cy="319.3" r="2.15" fill="none" stroke="#ff3a3a" stroke-width="0.55"/><circle cx="145.7" cy="309.8" r="2.15" fill="none" stroke="#ff3a3a" stroke-width="0.55"/><circle cx="149.9" cy="303.9" r="2.15" fill="none" stroke="#ff3a3a" stroke-width="0.55"/><circle cx="154.1" cy="299.9" r="2.15" fill="none" stroke="#ff3a3a" stroke-width="0.55"/><circle cx="158.3" cy="297.4" r="2.15" fill="none" stroke="#ff3a3a" stroke-width="0.55"/><circle cx="162.5" cy="295.8" r="2.15" fill="none" stroke="#ff3a3a" stroke-width="0.55"/><circle cx="166.7" cy="295.4" r="2.15" fill="none" stroke="#ff3a3a" stroke-width="0.55"/><circle cx="170.9" cy="295.4" r="2.15" fill="none" stroke="#ff3a3a" stroke-width="0.55"/><circle cx="175.1" cy="295.8" r="2.15" fill="none" stroke="#ff3a3a" stroke-width="0.55"/><circle cx="179.3" cy="297.4" r="2.15" fill="none" stroke="#ff3a3a" stroke-width="0.55"/><circle cx="183.5" cy="299.5" r="2.15" fill="none" stroke="#ff3a3a" stroke-width="0.55"/><circle cx="187.7" cy="301.8" r="2.15" fill="none" stroke="#ff3a3a" stroke-width="0.55"/><circle cx="191.9" cy="305.3" r="2.15" fill="none" stroke="#ff3a3a" stroke-width="0.55"/><circle cx="196.1" cy="309.0" r="2.15" fill="none" stroke="#ff3a3a" stroke-width="0.55"/><circle cx="200.3" cy="313.6" r="2.15" fill="none" stroke="#ff3a3a" stroke-width="0.55"/><circle cx="204.5" cy="319.2" r="2.15" fill="none" stroke="#ff3a3a" stroke-width="0.55"/><circle cx="208.7" cy="328.8" r="2.15" fill="none" stroke="#ff3a3a" stroke-width="0.55"/><circle cx="212.9" cy="383.0" r="2.15" fill="none" stroke="#ff3a3a" stroke-width="0.55"/><circle cx="217.1" cy="333.6" r="2.15" fill="none" stroke="#ff3a3a" stroke-width="0.55"/><circle cx="221.3" cy="328.8" r="2.15" fill="none" stroke="#ff3a3a" stroke-width="0.55"/><circle cx="225.5" cy="328.4" r="2.15" fill="none" stroke="#ff3a3a" stroke-width="0.55"/><circle cx="229.7" cy="331.7" r="2.15" fill="none" stroke="#ff3a3a" stroke-width="0.55"/><circle cx="233.9" cy="339.8" r="2.15" fill="none" stroke="#ff3a3a" stroke-width="0.55"/><circle cx="238.1" cy="354.4" r="2.15" fill="none" stroke="#ff3a3a" stroke-width="0.55"/><circle cx="242.3" cy="338.0" r="2.15" fill="none" stroke="#ff3a3a" stroke-width="0.55"/><circle cx="246.5" cy="328.8" r="2.15" fill="none" stroke="#ff3a3a" stroke-width="0.55"/><circle cx="250.7" cy="323.6" r="2.15" fill="none" stroke="#ff3a3a" stroke-width="0.55"/><circle cx="254.9" cy="320.4" r="2.15" fill="none" stroke="#ff3a3a" stroke-width="0.55"/>
<line x1="170.6" x2="170.6" y1="237.3" y2="412.0" stroke="#ff2020" stroke-width="0.9" stroke-dasharray="2.2 1.8"/>
<line x1="45.3" x2="65.7" y1="245.5" y2="245.5" stroke="#22e622" stroke-width="0.55"/>
<path d="M52.6 245.5 L57.5 242.8 L57.5 248.2 Z" fill="none" stroke="#22e622" stroke-width="0.55"/>
<text x="67.7" y="248.7" class="lg" text-anchor="start" >Space-time vector</text>
<line x1="45.3" x2="65.7" y1="258.5" y2="258.5" stroke="#3a3a3a" stroke-width="0.55"/>
<path d="M58.4 258.5 L53.5 255.8 L53.5 261.2 Z" fill="none" stroke="#3a3a3a" stroke-width="0.55"/>
<text x="67.7" y="261.7" class="lg" text-anchor="start" >STAP</text>
<line x1="45.3" x2="65.7" y1="270.5" y2="270.5" stroke="#1a1aff" stroke-width="0.55"/>
<circle cx="55.5" cy="270.5" r="1.45" fill="#1a1aff"/>
<text x="67.7" y="273.7" class="lg" text-anchor="start" >SR-STAP</text>
<line x1="45.3" x2="65.7" y1="283.5" y2="283.5" stroke="#ff3a3a" stroke-width="0.55"/>
<circle cx="55.5" cy="283.5" r="2.15" fill="none" stroke="#ff3a3a" stroke-width="0.55"/>
<text x="67.7" y="286.7" class="lg" text-anchor="start" >BR</text>
<text x="29.9" y="239.2" class="tk" text-anchor="end" >40</text>
<text x="29.9" y="268.4" class="tk" text-anchor="end" >20</text>
<text x="29.9" y="297.6" class="tk" text-anchor="end" >0</text>
<text x="29.9" y="326.8" class="tk" text-anchor="end" >-20</text>
<text x="29.9" y="356.0" class="tk" text-anchor="end" >-40</text>
<text x="29.9" y="385.2" class="tk" text-anchor="end" >-60</text>
<text x="29.9" y="414.3" class="tk" text-anchor="end" >-80</text>
<text x="56.5" y="421.2" class="tk" text-anchor="middle" >-60</text>
<text x="84.5" y="421.2" class="tk" text-anchor="middle" >-40</text>
<text x="112.5" y="421.2" class="tk" text-anchor="middle" >-20</text>
<text x="141.5" y="421.2" class="tk" text-anchor="middle" >0</text>
<text x="169.5" y="421.2" class="tk" text-anchor="middle" >20</text>
<text x="197.5" y="421.2" class="tk" text-anchor="middle" >40</text>
<text x="225.5" y="421.2" class="tk" text-anchor="middle" >60</text>
<text x="253.5" y="421.2" class="tk" text-anchor="middle" >80</text>
<text x="143.5" y="431" class="lb" text-anchor="middle">Angle/<tspan font-size="6.5" dy="-2.5">o</tspan></text>
<text transform="translate(16,324.5) rotate(-90)" class="lb" text-anchor="middle">Response/dB</text>
<text x="138.0" y="447.5" class="cp" text-anchor="middle" >(c)</text>
<line x1="341.0" x2="341.0" y1="237.4" y2="411.5" stroke="#e8e8e8" stroke-width="0.6"/>
<line x1="363.1" x2="363.1" y1="237.4" y2="411.5" stroke="#e8e8e8" stroke-width="0.6"/>
<line x1="385.3" x2="385.3" y1="237.4" y2="411.5" stroke="#e8e8e8" stroke-width="0.6"/>
<line x1="407.5" x2="407.5" y1="237.4" y2="411.5" stroke="#e8e8e8" stroke-width="0.6"/>
<line x1="429.6" x2="429.6" y1="237.4" y2="411.5" stroke="#e8e8e8" stroke-width="0.6"/>
<line x1="451.8" x2="451.8" y1="237.4" y2="411.5" stroke="#e8e8e8" stroke-width="0.6"/>
<line x1="474.0" x2="474.0" y1="237.4" y2="411.5" stroke="#e8e8e8" stroke-width="0.6"/>
<line x1="496.2" x2="496.2" y1="237.4" y2="411.5" stroke="#e8e8e8" stroke-width="0.6"/>
<line x1="518.3" x2="518.3" y1="237.4" y2="411.5" stroke="#e8e8e8" stroke-width="0.6"/>
<line x1="318.8" x2="540.5" y1="256.4" y2="256.4" stroke="#e8e8e8" stroke-width="0.6"/>
<line x1="318.8" x2="540.5" y1="273.7" y2="273.7" stroke="#e8e8e8" stroke-width="0.6"/>
<line x1="318.8" x2="540.5" y1="290.9" y2="290.9" stroke="#e8e8e8" stroke-width="0.6"/>
<line x1="318.8" x2="540.5" y1="308.2" y2="308.2" stroke="#e8e8e8" stroke-width="0.6"/>
<line x1="318.8" x2="540.5" y1="325.4" y2="325.4" stroke="#e8e8e8" stroke-width="0.6"/>
<line x1="318.8" x2="540.5" y1="342.7" y2="342.7" stroke="#e8e8e8" stroke-width="0.6"/>
<line x1="318.8" x2="540.5" y1="359.9" y2="359.9" stroke="#e8e8e8" stroke-width="0.6"/>
<line x1="318.8" x2="540.5" y1="377.2" y2="377.2" stroke="#e8e8e8" stroke-width="0.6"/>
<line x1="318.8" x2="540.5" y1="394.4" y2="394.4" stroke="#e8e8e8" stroke-width="0.6"/>
<rect x="318.8" y="237.4" width="221.7" height="174.1" fill="none" stroke="#b4b4b4" stroke-width="1.35"/>
<line x1="341.0" x2="341.0" y1="411.5" y2="409.5" stroke="#777" stroke-width="0.5"/>
<line x1="341.0" x2="341.0" y1="237.4" y2="239.4" stroke="#999" stroke-width="0.5"/>
<line x1="363.1" x2="363.1" y1="411.5" y2="409.5" stroke="#777" stroke-width="0.5"/>
<line x1="363.1" x2="363.1" y1="237.4" y2="239.4" stroke="#999" stroke-width="0.5"/>
<line x1="385.3" x2="385.3" y1="411.5" y2="409.5" stroke="#777" stroke-width="0.5"/>
<line x1="385.3" x2="385.3" y1="237.4" y2="239.4" stroke="#999" stroke-width="0.5"/>
<line x1="407.5" x2="407.5" y1="411.5" y2="409.5" stroke="#777" stroke-width="0.5"/>
<line x1="407.5" x2="407.5" y1="237.4" y2="239.4" stroke="#999" stroke-width="0.5"/>
<line x1="429.6" x2="429.6" y1="411.5" y2="409.5" stroke="#777" stroke-width="0.5"/>
<line x1="429.6" x2="429.6" y1="237.4" y2="239.4" stroke="#999" stroke-width="0.5"/>
<line x1="451.8" x2="451.8" y1="411.5" y2="409.5" stroke="#777" stroke-width="0.5"/>
<line x1="451.8" x2="451.8" y1="237.4" y2="239.4" stroke="#999" stroke-width="0.5"/>
<line x1="474.0" x2="474.0" y1="411.5" y2="409.5" stroke="#777" stroke-width="0.5"/>
<line x1="474.0" x2="474.0" y1="237.4" y2="239.4" stroke="#999" stroke-width="0.5"/>
<line x1="496.2" x2="496.2" y1="411.5" y2="409.5" stroke="#777" stroke-width="0.5"/>
<line x1="496.2" x2="496.2" y1="237.4" y2="239.4" stroke="#999" stroke-width="0.5"/>
<line x1="518.3" x2="518.3" y1="411.5" y2="409.5" stroke="#777" stroke-width="0.5"/>
<line x1="518.3" x2="518.3" y1="237.4" y2="239.4" stroke="#999" stroke-width="0.5"/>
<line x1="318.8" x2="320.8" y1="256.4" y2="256.4" stroke="#777" stroke-width="0.5"/>
<line x1="540.5" x2="538.5" y1="256.4" y2="256.4" stroke="#999" stroke-width="0.5"/>
<line x1="318.8" x2="320.8" y1="273.7" y2="273.7" stroke="#777" stroke-width="0.5"/>
<line x1="540.5" x2="538.5" y1="273.7" y2="273.7" stroke="#999" stroke-width="0.5"/>
<line x1="318.8" x2="320.8" y1="290.9" y2="290.9" stroke="#777" stroke-width="0.5"/>
<line x1="540.5" x2="538.5" y1="290.9" y2="290.9" stroke="#999" stroke-width="0.5"/>
<line x1="318.8" x2="320.8" y1="308.2" y2="308.2" stroke="#777" stroke-width="0.5"/>
<line x1="540.5" x2="538.5" y1="308.2" y2="308.2" stroke="#999" stroke-width="0.5"/>
<line x1="318.8" x2="320.8" y1="325.4" y2="325.4" stroke="#777" stroke-width="0.5"/>
<line x1="540.5" x2="538.5" y1="325.4" y2="325.4" stroke="#999" stroke-width="0.5"/>
<line x1="318.8" x2="320.8" y1="342.7" y2="342.7" stroke="#777" stroke-width="0.5"/>
<line x1="540.5" x2="538.5" y1="342.7" y2="342.7" stroke="#999" stroke-width="0.5"/>
<line x1="318.8" x2="320.8" y1="359.9" y2="359.9" stroke="#777" stroke-width="0.5"/>
<line x1="540.5" x2="538.5" y1="359.9" y2="359.9" stroke="#999" stroke-width="0.5"/>
<line x1="318.8" x2="320.8" y1="377.2" y2="377.2" stroke="#777" stroke-width="0.5"/>
<line x1="540.5" x2="538.5" y1="377.2" y2="377.2" stroke="#999" stroke-width="0.5"/>
<line x1="318.8" x2="320.8" y1="394.4" y2="394.4" stroke="#777" stroke-width="0.5"/>
<line x1="540.5" x2="538.5" y1="394.4" y2="394.4" stroke="#999" stroke-width="0.5"/>
<g clip-path="url(#cd)"><path d="M317.6 381.7 L323.0 380.8 L328.4 380.2 L333.9 379.6 L339.3 379.0 L344.7 378.4 L350.1 377.7 L355.5 377.0 L361.0 376.3 L366.4 375.5 L371.8 374.7 L377.2 373.8 L382.6 372.9 L388.1 372.0 L393.5 370.9 L398.9 369.8 L404.3 368.6 L409.8 367.3 L415.2 365.9 L420.6 364.3 L426.0 362.5 L431.4 360.5 L436.9 358.2 L442.3 355.5 L447.7 352.2 L453.1 347.9 L458.6 341.8 L464.0 331.4 L469.4 239.2 L474.8 331.4 L480.2 341.8 L485.7 347.9 L491.1 352.2 L496.5 355.5 L501.9 358.2 L507.4 360.5 L512.8 362.5 L518.2 364.3 L523.6 365.9 L529.0 367.3 L534.5 368.6 L539.9 369.8" fill="none" stroke="#22e622" stroke-width="0.55" stroke-linejoin="round"/></g>
<path d="M320.1 380.8 L325.0 378.1 L325.0 383.5 Z" fill="none" stroke="#22e622" stroke-width="0.55"/><path d="M325.5 380.2 L330.4 377.5 L330.4 382.9 Z" fill="none" stroke="#22e622" stroke-width="0.55"/><path d="M331.0 379.6 L335.9 376.9 L335.9 382.3 Z" fill="none" stroke="#22e622" stroke-width="0.55"/><path d="M336.4 379.0 L341.3 376.3 L341.3 381.7 Z" fill="none" stroke="#22e622" stroke-width="0.55"/><path d="M341.8 378.4 L346.7 375.7 L346.7 381.1 Z" fill="none" stroke="#22e622" stroke-width="0.55"/><path d="M347.2 377.7 L352.1 375.0 L352.1 380.4 Z" fill="none" stroke="#22e622" stroke-width="0.55"/><path d="M352.6 377.0 L357.5 374.3 L357.5 379.7 Z" fill="none" stroke="#22e622" stroke-width="0.55"/><path d="M358.1 376.3 L363.0 373.6 L363.0 379.0 Z" fill="none" stroke="#22e622" stroke-width="0.55"/><path d="M363.5 375.5 L368.4 372.8 L368.4 378.2 Z" fill="none" stroke="#22e622" stroke-width="0.55"/><path d="M368.9 374.7 L373.8 372.0 L373.8 377.4 Z" fill="none" stroke="#22e622" stroke-width="0.55"/><path d="M374.3 373.8 L379.2 371.1 L379.2 376.5 Z" fill="none" stroke="#22e622" stroke-width="0.55"/><path d="M379.7 372.9 L384.6 370.2 L384.6 375.6 Z" fill="none" stroke="#22e622" stroke-width="0.55"/><path d="M385.2 372.0 L390.1 369.3 L390.1 374.7 Z" fill="none" stroke="#22e622" stroke-width="0.55"/><path d="M390.6 370.9 L395.5 368.2 L395.5 373.6 Z" fill="none" stroke="#22e622" stroke-width="0.55"/><path d="M396.0 369.8 L400.9 367.1 L400.9 372.5 Z" fill="none" stroke="#22e622" stroke-width="0.55"/><path d="M401.4 368.6 L406.3 365.9 L406.3 371.3 Z" fill="none" stroke="#22e622" stroke-width="0.55"/><path d="M406.9 367.3 L411.8 364.6 L411.8 370.0 Z" fill="none" stroke="#22e622" stroke-width="0.55"/><path d="M412.3 365.9 L417.2 363.2 L417.2 368.6 Z" fill="none" stroke="#22e622" stroke-width="0.55"/><path d="M417.7 364.3 L422.6 361.6 L422.6 367.0 Z" fill="none" stroke="#22e622" stroke-width="0.55"/><path d="M423.1 362.5 L428.0 359.8 L428.0 365.2 Z" fill="none" stroke="#22e622" stroke-width="0.55"/><path d="M428.5 360.5 L433.4 357.8 L433.4 363.2 Z" fill="none" stroke="#22e622" stroke-width="0.55"/><path d="M434.0 358.2 L438.9 355.5 L438.9 360.9 Z" fill="none" stroke="#22e622" stroke-width="0.55"/><path d="M439.4 355.5 L444.3 352.8 L444.3 358.2 Z" fill="none" stroke="#22e622" stroke-width="0.55"/><path d="M444.8 352.2 L449.7 349.5 L449.7 354.9 Z" fill="none" stroke="#22e622" stroke-width="0.55"/><path d="M450.2 347.9 L455.1 345.2 L455.1 350.6 Z" fill="none" stroke="#22e622" stroke-width="0.55"/><path d="M455.7 341.8 L460.6 339.1 L460.6 344.5 Z" fill="none" stroke="#22e622" stroke-width="0.55"/><path d="M461.1 331.4 L466.0 328.7 L466.0 334.1 Z" fill="none" stroke="#22e622" stroke-width="0.55"/><path d="M466.5 239.2 L471.4 236.5 L471.4 241.9 Z" fill="none" stroke="#22e622" stroke-width="0.55"/><path d="M471.9 331.4 L476.8 328.7 L476.8 334.1 Z" fill="none" stroke="#22e622" stroke-width="0.55"/><path d="M477.3 341.8 L482.2 339.1 L482.2 344.5 Z" fill="none" stroke="#22e622" stroke-width="0.55"/><path d="M482.8 347.9 L487.7 345.2 L487.7 350.6 Z" fill="none" stroke="#22e622" stroke-width="0.55"/><path d="M488.2 352.2 L493.1 349.5 L493.1 354.9 Z" fill="none" stroke="#22e622" stroke-width="0.55"/><path d="M493.6 355.5 L498.5 352.8 L498.5 358.2 Z" fill="none" stroke="#22e622" stroke-width="0.55"/><path d="M499.0 358.2 L503.9 355.5 L503.9 360.9 Z" fill="none" stroke="#22e622" stroke-width="0.55"/><path d="M504.5 360.5 L509.4 357.8 L509.4 363.2 Z" fill="none" stroke="#22e622" stroke-width="0.55"/><path d="M509.9 362.5 L514.8 359.8 L514.8 365.2 Z" fill="none" stroke="#22e622" stroke-width="0.55"/><path d="M515.3 364.3 L520.2 361.6 L520.2 367.0 Z" fill="none" stroke="#22e622" stroke-width="0.55"/><path d="M520.7 365.9 L525.6 363.2 L525.6 368.6 Z" fill="none" stroke="#22e622" stroke-width="0.55"/><path d="M526.1 367.3 L531.0 364.6 L531.0 370.0 Z" fill="none" stroke="#22e622" stroke-width="0.55"/><path d="M531.6 368.6 L536.5 365.9 L536.5 371.3 Z" fill="none" stroke="#22e622" stroke-width="0.55"/><path d="M537.0 369.8 L541.9 367.1 L541.9 372.5 Z" fill="none" stroke="#22e622" stroke-width="0.55"/>
<g clip-path="url(#cd)"><path d="M317.6 341.0 L323.0 343.4 L328.4 351.3 L333.9 343.4 L339.3 342.4 L344.7 368.6 L350.1 340.1 L355.5 339.4 L361.0 337.5 L366.4 344.8 L371.8 340.5 L377.2 343.4 L382.6 357.9 L388.1 356.5 L393.5 335.5 L398.9 327.5 L404.3 335.5 L409.8 340.5 L415.2 344.4 L420.6 334.1 L426.0 336.5 L431.4 334.1 L436.9 329.9 L442.3 332.7 L447.7 335.8 L453.1 334.9 L458.6 326.1 L464.0 337.2 L469.4 303.4 L474.8 332.2 L480.2 359.9 L485.7 335.1 L491.1 332.2 L496.5 344.4 L501.9 344.1 L507.4 328.9 L512.8 333.2 L518.2 340.1 L523.6 336.1 L529.0 326.3 L534.5 331.1 L539.9 333.2" fill="none" stroke="#3a3a3a" stroke-width="0.55" stroke-linejoin="round"/></g>
<path d="M325.9 343.4 L321.0 340.7 L321.0 346.1 Z" fill="none" stroke="#3a3a3a" stroke-width="0.55"/><path d="M331.3 351.3 L326.4 348.6 L326.4 354.0 Z" fill="none" stroke="#3a3a3a" stroke-width="0.55"/><path d="M336.8 343.4 L331.9 340.7 L331.9 346.1 Z" fill="none" stroke="#3a3a3a" stroke-width="0.55"/><path d="M342.2 342.4 L337.3 339.7 L337.3 345.1 Z" fill="none" stroke="#3a3a3a" stroke-width="0.55"/><path d="M347.6 368.6 L342.7 365.9 L342.7 371.3 Z" fill="none" stroke="#3a3a3a" stroke-width="0.55"/><path d="M353.0 340.1 L348.1 337.4 L348.1 342.8 Z" fill="none" stroke="#3a3a3a" stroke-width="0.55"/><path d="M358.4 339.4 L353.5 336.7 L353.5 342.1 Z" fill="none" stroke="#3a3a3a" stroke-width="0.55"/><path d="M363.9 337.5 L359.0 334.8 L359.0 340.2 Z" fill="none" stroke="#3a3a3a" stroke-width="0.55"/><path d="M369.3 344.8 L364.4 342.1 L364.4 347.5 Z" fill="none" stroke="#3a3a3a" stroke-width="0.55"/><path d="M374.7 340.5 L369.8 337.8 L369.8 343.2 Z" fill="none" stroke="#3a3a3a" stroke-width="0.55"/><path d="M380.1 343.4 L375.2 340.7 L375.2 346.1 Z" fill="none" stroke="#3a3a3a" stroke-width="0.55"/><path d="M385.5 357.9 L380.6 355.2 L380.6 360.6 Z" fill="none" stroke="#3a3a3a" stroke-width="0.55"/><path d="M391.0 356.5 L386.1 353.8 L386.1 359.2 Z" fill="none" stroke="#3a3a3a" stroke-width="0.55"/><path d="M396.4 335.5 L391.5 332.8 L391.5 338.2 Z" fill="none" stroke="#3a3a3a" stroke-width="0.55"/><path d="M401.8 327.5 L396.9 324.8 L396.9 330.2 Z" fill="none" stroke="#3a3a3a" stroke-width="0.55"/><path d="M407.2 335.5 L402.3 332.8 L402.3 338.2 Z" fill="none" stroke="#3a3a3a" stroke-width="0.55"/><path d="M412.7 340.5 L407.8 337.8 L407.8 343.2 Z" fill="none" stroke="#3a3a3a" stroke-width="0.55"/><path d="M418.1 344.4 L413.2 341.7 L413.2 347.1 Z" fill="none" stroke="#3a3a3a" stroke-width="0.55"/><path d="M423.5 334.1 L418.6 331.4 L418.6 336.8 Z" fill="none" stroke="#3a3a3a" stroke-width="0.55"/><path d="M428.9 336.5 L424.0 333.8 L424.0 339.2 Z" fill="none" stroke="#3a3a3a" stroke-width="0.55"/><path d="M434.3 334.1 L429.4 331.4 L429.4 336.8 Z" fill="none" stroke="#3a3a3a" stroke-width="0.55"/><path d="M439.8 329.9 L434.9 327.2 L434.9 332.6 Z" fill="none" stroke="#3a3a3a" stroke-width="0.55"/><path d="M445.2 332.7 L440.3 330.0 L440.3 335.4 Z" fill="none" stroke="#3a3a3a" stroke-width="0.55"/><path d="M450.6 335.8 L445.7 333.1 L445.7 338.5 Z" fill="none" stroke="#3a3a3a" stroke-width="0.55"/><path d="M456.0 334.9 L451.1 332.2 L451.1 337.6 Z" fill="none" stroke="#3a3a3a" stroke-width="0.55"/><path d="M461.5 326.1 L456.6 323.4 L456.6 328.8 Z" fill="none" stroke="#3a3a3a" stroke-width="0.55"/><path d="M466.9 337.2 L462.0 334.5 L462.0 339.9 Z" fill="none" stroke="#3a3a3a" stroke-width="0.55"/><path d="M472.3 303.4 L467.4 300.7 L467.4 306.1 Z" fill="none" stroke="#3a3a3a" stroke-width="0.55"/><path d="M477.7 332.2 L472.8 329.5 L472.8 334.9 Z" fill="none" stroke="#3a3a3a" stroke-width="0.55"/><path d="M483.1 359.9 L478.2 357.2 L478.2 362.6 Z" fill="none" stroke="#3a3a3a" stroke-width="0.55"/><path d="M488.6 335.1 L483.7 332.4 L483.7 337.8 Z" fill="none" stroke="#3a3a3a" stroke-width="0.55"/><path d="M494.0 332.2 L489.1 329.5 L489.1 334.9 Z" fill="none" stroke="#3a3a3a" stroke-width="0.55"/><path d="M499.4 344.4 L494.5 341.7 L494.5 347.1 Z" fill="none" stroke="#3a3a3a" stroke-width="0.55"/><path d="M504.8 344.1 L499.9 341.4 L499.9 346.8 Z" fill="none" stroke="#3a3a3a" stroke-width="0.55"/><path d="M510.3 328.9 L505.4 326.2 L505.4 331.6 Z" fill="none" stroke="#3a3a3a" stroke-width="0.55"/><path d="M515.7 333.2 L510.8 330.5 L510.8 335.9 Z" fill="none" stroke="#3a3a3a" stroke-width="0.55"/><path d="M521.1 340.1 L516.2 337.4 L516.2 342.8 Z" fill="none" stroke="#3a3a3a" stroke-width="0.55"/><path d="M526.5 336.1 L521.6 333.4 L521.6 338.8 Z" fill="none" stroke="#3a3a3a" stroke-width="0.55"/><path d="M531.9 326.3 L527.0 323.6 L527.0 329.0 Z" fill="none" stroke="#3a3a3a" stroke-width="0.55"/><path d="M537.4 331.1 L532.5 328.4 L532.5 333.8 Z" fill="none" stroke="#3a3a3a" stroke-width="0.55"/><path d="M542.8 333.2 L537.9 330.5 L537.9 335.9 Z" fill="none" stroke="#3a3a3a" stroke-width="0.55"/>
<g clip-path="url(#cd)"><path d="M317.6 326.3 L323.0 340.1 L328.4 347.4 L333.9 355.3 L339.3 353.9 L344.7 346.8 L350.1 346.0 L355.5 351.3 L361.0 323.0 L366.4 340.8 L371.8 346.5 L377.2 346.0 L382.6 348.4 L388.1 338.0 L393.5 340.1 L398.9 336.5 L404.3 338.4 L409.8 346.8 L415.2 340.5 L420.6 347.4 L426.0 361.2 L431.4 345.3 L436.9 353.2 L442.3 337.2 L447.7 328.2 L453.1 329.8 L458.6 339.6 L464.0 356.8 L469.4 265.6 L474.8 284.4 L480.2 339.1 L485.7 347.0 L491.1 329.9 L496.5 328.6 L501.9 335.1 L507.4 339.1 L512.8 363.1 L518.2 335.8 L523.6 343.0 L529.0 330.3 L534.5 321.3 L539.9 325.3" fill="none" stroke="#1a1aff" stroke-width="0.55" stroke-linejoin="round"/></g>
<circle cx="323.0" cy="340.1" r="1.45" fill="#1a1aff"/><circle cx="328.4" cy="347.4" r="1.45" fill="#1a1aff"/><circle cx="333.9" cy="355.3" r="1.45" fill="#1a1aff"/><circle cx="339.3" cy="353.9" r="1.45" fill="#1a1aff"/><circle cx="344.7" cy="346.8" r="1.45" fill="#1a1aff"/><circle cx="350.1" cy="346.0" r="1.45" fill="#1a1aff"/><circle cx="355.5" cy="351.3" r="1.45" fill="#1a1aff"/><circle cx="361.0" cy="323.0" r="1.45" fill="#1a1aff"/><circle cx="366.4" cy="340.8" r="1.45" fill="#1a1aff"/><circle cx="371.8" cy="346.5" r="1.45" fill="#1a1aff"/><circle cx="377.2" cy="346.0" r="1.45" fill="#1a1aff"/><circle cx="382.6" cy="348.4" r="1.45" fill="#1a1aff"/><circle cx="388.1" cy="338.0" r="1.45" fill="#1a1aff"/><circle cx="393.5" cy="340.1" r="1.45" fill="#1a1aff"/><circle cx="398.9" cy="336.5" r="1.45" fill="#1a1aff"/><circle cx="404.3" cy="338.4" r="1.45" fill="#1a1aff"/><circle cx="409.8" cy="346.8" r="1.45" fill="#1a1aff"/><circle cx="415.2" cy="340.5" r="1.45" fill="#1a1aff"/><circle cx="420.6" cy="347.4" r="1.45" fill="#1a1aff"/><circle cx="426.0" cy="361.2" r="1.45" fill="#1a1aff"/><circle cx="431.4" cy="345.3" r="1.45" fill="#1a1aff"/><circle cx="436.9" cy="353.2" r="1.45" fill="#1a1aff"/><circle cx="442.3" cy="337.2" r="1.45" fill="#1a1aff"/><circle cx="447.7" cy="328.2" r="1.45" fill="#1a1aff"/><circle cx="453.1" cy="329.8" r="1.45" fill="#1a1aff"/><circle cx="458.6" cy="339.6" r="1.45" fill="#1a1aff"/><circle cx="464.0" cy="356.8" r="1.45" fill="#1a1aff"/><circle cx="469.4" cy="265.6" r="1.45" fill="#1a1aff"/><circle cx="474.8" cy="284.4" r="1.45" fill="#1a1aff"/><circle cx="480.2" cy="339.1" r="1.45" fill="#1a1aff"/><circle cx="485.7" cy="347.0" r="1.45" fill="#1a1aff"/><circle cx="491.1" cy="329.9" r="1.45" fill="#1a1aff"/><circle cx="496.5" cy="328.6" r="1.45" fill="#1a1aff"/><circle cx="501.9" cy="335.1" r="1.45" fill="#1a1aff"/><circle cx="507.4" cy="339.1" r="1.45" fill="#1a1aff"/><circle cx="512.8" cy="363.1" r="1.45" fill="#1a1aff"/><circle cx="518.2" cy="335.8" r="1.45" fill="#1a1aff"/><circle cx="523.6" cy="343.0" r="1.45" fill="#1a1aff"/><circle cx="529.0" cy="330.3" r="1.45" fill="#1a1aff"/><circle cx="534.5" cy="321.3" r="1.45" fill="#1a1aff"/><circle cx="539.9" cy="325.3" r="1.45" fill="#1a1aff"/>
<g clip-path="url(#cd)"><path d="M317.6 322.9 L323.0 336.5 L328.4 334.1 L333.9 330.1 L339.3 338.4 L344.7 352.4 L350.1 353.2 L355.5 354.6 L361.0 336.0 L366.4 336.5 L371.8 337.5 L377.2 357.2 L382.6 336.5 L388.1 334.9 L393.5 340.1 L398.9 341.3 L404.3 368.1 L409.8 340.5 L415.2 330.5 L420.6 326.5 L426.0 330.5 L431.4 346.0 L436.9 352.7 L442.3 335.5 L447.7 345.8 L453.1 343.6 L458.6 332.7 L464.0 337.2 L469.4 239.2 L474.8 352.0 L480.2 380.3 L485.7 346.1 L491.1 321.3 L496.5 331.1 L501.9 342.7 L507.4 348.4 L512.8 334.2 L518.2 335.3 L523.6 343.0 L529.0 361.0 L534.5 358.9 L539.9 344.4" fill="none" stroke="#ff3a3a" stroke-width="0.55" stroke-linejoin="round"/></g>
<circle cx="323.0" cy="336.5" r="2.15" fill="none" stroke="#ff3a3a" stroke-width="0.55"/><circle cx="328.4" cy="334.1" r="2.15" fill="none" stroke="#ff3a3a" stroke-width="0.55"/><circle cx="333.9" cy="330.1" r="2.15" fill="none" stroke="#ff3a3a" stroke-width="0.55"/><circle cx="339.3" cy="338.4" r="2.15" fill="none" stroke="#ff3a3a" stroke-width="0.55"/><circle cx="344.7" cy="352.4" r="2.15" fill="none" stroke="#ff3a3a" stroke-width="0.55"/><circle cx="350.1" cy="353.2" r="2.15" fill="none" stroke="#ff3a3a" stroke-width="0.55"/><circle cx="355.5" cy="354.6" r="2.15" fill="none" stroke="#ff3a3a" stroke-width="0.55"/><circle cx="361.0" cy="336.0" r="2.15" fill="none" stroke="#ff3a3a" stroke-width="0.55"/><circle cx="366.4" cy="336.5" r="2.15" fill="none" stroke="#ff3a3a" stroke-width="0.55"/><circle cx="371.8" cy="337.5" r="2.15" fill="none" stroke="#ff3a3a" stroke-width="0.55"/><circle cx="377.2" cy="357.2" r="2.15" fill="none" stroke="#ff3a3a" stroke-width="0.55"/><circle cx="382.6" cy="336.5" r="2.15" fill="none" stroke="#ff3a3a" stroke-width="0.55"/><circle cx="388.1" cy="334.9" r="2.15" fill="none" stroke="#ff3a3a" stroke-width="0.55"/><circle cx="393.5" cy="340.1" r="2.15" fill="none" stroke="#ff3a3a" stroke-width="0.55"/><circle cx="398.9" cy="341.3" r="2.15" fill="none" stroke="#ff3a3a" stroke-width="0.55"/><circle cx="404.3" cy="368.1" r="2.15" fill="none" stroke="#ff3a3a" stroke-width="0.55"/><circle cx="409.8" cy="340.5" r="2.15" fill="none" stroke="#ff3a3a" stroke-width="0.55"/><circle cx="415.2" cy="330.5" r="2.15" fill="none" stroke="#ff3a3a" stroke-width="0.55"/><circle cx="420.6" cy="326.5" r="2.15" fill="none" stroke="#ff3a3a" stroke-width="0.55"/><circle cx="426.0" cy="330.5" r="2.15" fill="none" stroke="#ff3a3a" stroke-width="0.55"/><circle cx="431.4" cy="346.0" r="2.15" fill="none" stroke="#ff3a3a" stroke-width="0.55"/><circle cx="436.9" cy="352.7" r="2.15" fill="none" stroke="#ff3a3a" stroke-width="0.55"/><circle cx="442.3" cy="335.5" r="2.15" fill="none" stroke="#ff3a3a" stroke-width="0.55"/><circle cx="447.7" cy="345.8" r="2.15" fill="none" stroke="#ff3a3a" stroke-width="0.55"/><circle cx="453.1" cy="343.6" r="2.15" fill="none" stroke="#ff3a3a" stroke-width="0.55"/><circle cx="458.6" cy="332.7" r="2.15" fill="none" stroke="#ff3a3a" stroke-width="0.55"/><circle cx="464.0" cy="337.2" r="2.15" fill="none" stroke="#ff3a3a" stroke-width="0.55"/><circle cx="469.4" cy="239.2" r="2.15" fill="none" stroke="#ff3a3a" stroke-width="0.55"/><circle cx="474.8" cy="352.0" r="2.15" fill="none" stroke="#ff3a3a" stroke-width="0.55"/><circle cx="480.2" cy="380.3" r="2.15" fill="none" stroke="#ff3a3a" stroke-width="0.55"/><circle cx="485.7" cy="346.1" r="2.15" fill="none" stroke="#ff3a3a" stroke-width="0.55"/><circle cx="491.1" cy="321.3" r="2.15" fill="none" stroke="#ff3a3a" stroke-width="0.55"/><circle cx="496.5" cy="331.1" r="2.15" fill="none" stroke="#ff3a3a" stroke-width="0.55"/><circle cx="501.9" cy="342.7" r="2.15" fill="none" stroke="#ff3a3a" stroke-width="0.55"/><circle cx="507.4" cy="348.4" r="2.15" fill="none" stroke="#ff3a3a" stroke-width="0.55"/><circle cx="512.8" cy="334.2" r="2.15" fill="none" stroke="#ff3a3a" stroke-width="0.55"/><circle cx="518.2" cy="335.3" r="2.15" fill="none" stroke="#ff3a3a" stroke-width="0.55"/><circle cx="523.6" cy="343.0" r="2.15" fill="none" stroke="#ff3a3a" stroke-width="0.55"/><circle cx="529.0" cy="361.0" r="2.15" fill="none" stroke="#ff3a3a" stroke-width="0.55"/><circle cx="534.5" cy="358.9" r="2.15" fill="none" stroke="#ff3a3a" stroke-width="0.55"/><circle cx="539.9" cy="344.4" r="2.15" fill="none" stroke="#ff3a3a" stroke-width="0.55"/>
<line x1="469.4" x2="469.4" y1="237.4" y2="411.5" stroke="#ff2020" stroke-width="0.9" stroke-dasharray="2.2 1.8"/>
<line x1="328.3" x2="349.0" y1="250.5" y2="250.5" stroke="#22e622" stroke-width="0.55"/>
<path d="M335.9 250.5 L340.8 247.8 L340.8 253.2 Z" fill="none" stroke="#22e622" stroke-width="0.55"/>
<text x="350.7" y="253.7" class="lg" text-anchor="start" >Space-time vector</text>
<line x1="328.3" x2="349.0" y1="263.5" y2="263.5" stroke="#3a3a3a" stroke-width="0.55"/>
<path d="M341.7 263.5 L336.8 260.8 L336.8 266.2 Z" fill="none" stroke="#3a3a3a" stroke-width="0.55"/>
<text x="350.7" y="266.7" class="lg" text-anchor="start" >STAP</text>
<line x1="328.3" x2="349.0" y1="275.5" y2="275.5" stroke="#1a1aff" stroke-width="0.55"/>
<circle cx="338.8" cy="275.5" r="1.45" fill="#1a1aff"/>
<text x="350.7" y="278.7" class="lg" text-anchor="start" >SR-STAP</text>
<line x1="328.3" x2="349.0" y1="287.5" y2="287.5" stroke="#ff3a3a" stroke-width="0.55"/>
<circle cx="338.8" cy="287.5" r="2.15" fill="none" stroke="#ff3a3a" stroke-width="0.55"/>
<text x="350.7" y="290.7" class="lg" text-anchor="start" >BR</text>
<text x="315.6" y="241.4" class="tk" text-anchor="end" >0</text>
<text x="315.6" y="258.6" class="tk" text-anchor="end" >-10</text>
<text x="315.6" y="275.9" class="tk" text-anchor="end" >-20</text>
<text x="315.6" y="293.1" class="tk" text-anchor="end" >-30</text>
<text x="315.6" y="310.4" class="tk" text-anchor="end" >-40</text>
<text x="315.6" y="327.6" class="tk" text-anchor="end" >-50</text>
<text x="315.6" y="344.9" class="tk" text-anchor="end" >-60</text>
<text x="315.6" y="362.1" class="tk" text-anchor="end" >-70</text>
<text x="315.6" y="379.4" class="tk" text-anchor="end" >-80</text>
<text x="315.6" y="396.6" class="tk" text-anchor="end" >-90</text>
<text x="315.6" y="413.9" class="tk" text-anchor="end" >-100</text>
<text x="317.8" y="421.2" class="tk" text-anchor="middle" >-0. 4</text>
<text x="340.0" y="421.2" class="tk" text-anchor="middle" >-0. 3</text>
<text x="362.1" y="421.2" class="tk" text-anchor="middle" >-0. 2</text>
<text x="384.3" y="421.2" class="tk" text-anchor="middle" >-0. 1</text>
<text x="407.5" y="421.2" class="tk" text-anchor="middle" >0</text>
<text x="429.6" y="421.2" class="tk" text-anchor="middle" >0. 1</text>
<text x="451.8" y="421.2" class="tk" text-anchor="middle" >0. 2</text>
<text x="474.0" y="421.2" class="tk" text-anchor="middle" >0. 3</text>
<text x="496.2" y="421.2" class="tk" text-anchor="middle" >0. 4</text>
<text x="518.3" y="421.2" class="tk" text-anchor="middle" >0. 5</text>
<text x="540.5" y="421.2" class="tk" text-anchor="middle" >0. 6</text>
<text x="429.8" y="432.0" class="lb" text-anchor="middle" >Doppler frequency/Hz</text>
<text transform="translate(298.5,324.5) rotate(-90)" class="lb" text-anchor="middle">Response/dB</text>
<text x="424.5" y="447.0" class="cp" text-anchor="middle" >(d)</text>
</svg></body></html>
